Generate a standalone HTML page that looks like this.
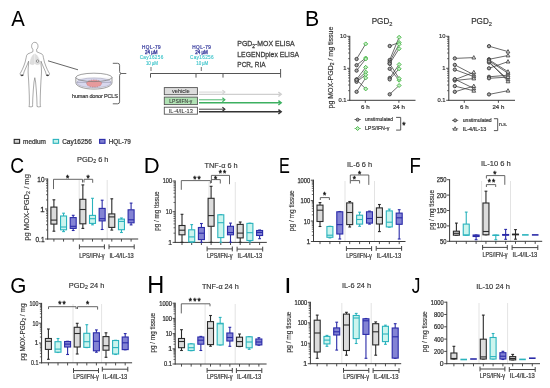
<!DOCTYPE html>
<html><head><meta charset="utf-8"><title>Figure</title>
<style>html,body{margin:0;padding:0;background:#fff;}svg{display:block;}</style>
</head><body>
<svg width="550" height="388" viewBox="0 0 550 388" font-family="'Liberation Sans', Arial, sans-serif">
<rect width="550" height="388" fill="#ffffff"/>
<line x1="79.2" y1="180" x2="79.2" y2="239" stroke="#dcdcdc" stroke-width="0.8" />
<line x1="107.2" y1="180" x2="107.2" y2="239" stroke="#dcdcdc" stroke-width="0.8" />
<line x1="47.7" y1="178.5" x2="47.7" y2="239.5" stroke="#3a3a3a" stroke-width="1" />
<line x1="47.2" y1="239" x2="138.2" y2="239" stroke="#3a3a3a" stroke-width="1" />
<line x1="45.1" y1="179" x2="47.7" y2="179" stroke="#3a3a3a" stroke-width="0.9" />
<text x="44.5" y="181.81" font-size="7.8" fill="#2e2e2e" stroke="#2e2e2e" stroke-width="0.27" text-anchor="end" textLength="7.2" lengthAdjust="spacingAndGlyphs" >10</text>
<line x1="45.1" y1="209" x2="47.7" y2="209" stroke="#3a3a3a" stroke-width="0.9" />
<text x="44.5" y="211.81" font-size="7.8" fill="#2e2e2e" stroke="#2e2e2e" stroke-width="0.27" text-anchor="end" >1</text>
<line x1="45.1" y1="239" x2="47.7" y2="239" stroke="#3a3a3a" stroke-width="0.9" />
<text x="44.5" y="241.81" font-size="7.8" fill="#2e2e2e" stroke="#2e2e2e" stroke-width="0.27" text-anchor="end" textLength="9" lengthAdjust="spacingAndGlyphs" >0.1</text>
<line x1="46" y1="199.97" x2="47.7" y2="199.97" stroke="#3a3a3a" stroke-width="0.75" />
<line x1="46" y1="194.69" x2="47.7" y2="194.69" stroke="#3a3a3a" stroke-width="0.75" />
<line x1="46" y1="190.94" x2="47.7" y2="190.94" stroke="#3a3a3a" stroke-width="0.75" />
<line x1="46" y1="188.03" x2="47.7" y2="188.03" stroke="#3a3a3a" stroke-width="0.75" />
<line x1="46" y1="185.66" x2="47.7" y2="185.66" stroke="#3a3a3a" stroke-width="0.75" />
<line x1="46" y1="183.65" x2="47.7" y2="183.65" stroke="#3a3a3a" stroke-width="0.75" />
<line x1="46" y1="181.91" x2="47.7" y2="181.91" stroke="#3a3a3a" stroke-width="0.75" />
<line x1="46" y1="180.37" x2="47.7" y2="180.37" stroke="#3a3a3a" stroke-width="0.75" />
<line x1="46" y1="229.97" x2="47.7" y2="229.97" stroke="#3a3a3a" stroke-width="0.75" />
<line x1="46" y1="224.69" x2="47.7" y2="224.69" stroke="#3a3a3a" stroke-width="0.75" />
<line x1="46" y1="220.94" x2="47.7" y2="220.94" stroke="#3a3a3a" stroke-width="0.75" />
<line x1="46" y1="218.03" x2="47.7" y2="218.03" stroke="#3a3a3a" stroke-width="0.75" />
<line x1="46" y1="215.66" x2="47.7" y2="215.66" stroke="#3a3a3a" stroke-width="0.75" />
<line x1="46" y1="213.65" x2="47.7" y2="213.65" stroke="#3a3a3a" stroke-width="0.75" />
<line x1="46" y1="211.91" x2="47.7" y2="211.91" stroke="#3a3a3a" stroke-width="0.75" />
<line x1="46" y1="210.37" x2="47.7" y2="210.37" stroke="#3a3a3a" stroke-width="0.75" />
<line x1="53.9" y1="239" x2="53.9" y2="241.6" stroke="#3a3a3a" stroke-width="0.9" />
<line x1="63.55" y1="239" x2="63.55" y2="241.6" stroke="#3a3a3a" stroke-width="0.9" />
<line x1="73.2" y1="239" x2="73.2" y2="241.6" stroke="#3a3a3a" stroke-width="0.9" />
<line x1="82.85" y1="239" x2="82.85" y2="241.6" stroke="#3a3a3a" stroke-width="0.9" />
<line x1="92.5" y1="239" x2="92.5" y2="241.6" stroke="#3a3a3a" stroke-width="0.9" />
<line x1="102.15" y1="239" x2="102.15" y2="241.6" stroke="#3a3a3a" stroke-width="0.9" />
<line x1="111.8" y1="239" x2="111.8" y2="241.6" stroke="#3a3a3a" stroke-width="0.9" />
<line x1="121.45" y1="239" x2="121.45" y2="241.6" stroke="#3a3a3a" stroke-width="0.9" />
<line x1="131.1" y1="239" x2="131.1" y2="241.6" stroke="#3a3a3a" stroke-width="0.9" />
<line x1="53.9" y1="199.8" x2="53.9" y2="207.1" stroke="#2a2a2a" stroke-width="1.1" />
<line x1="53.9" y1="224.1" x2="53.9" y2="231.2" stroke="#2a2a2a" stroke-width="1.1" />
<line x1="52.5" y1="199.8" x2="55.3" y2="199.8" stroke="#2a2a2a" stroke-width="1.1" />
<line x1="52.5" y1="231.2" x2="55.3" y2="231.2" stroke="#2a2a2a" stroke-width="1.1" />
<rect x="50.9" y="207.1" width="6" height="17" fill="#dcdcdc" stroke="#2a2a2a" stroke-width="1.1"/>
<line x1="50.9" y1="220.1" x2="56.9" y2="220.1" stroke="#2a2a2a" stroke-width="1.1" />
<line x1="63.55" y1="213.2" x2="63.55" y2="216" stroke="#2ab3bd" stroke-width="1.1" />
<line x1="63.55" y1="229.8" x2="63.55" y2="231.6" stroke="#2ab3bd" stroke-width="1.1" />
<line x1="62.15" y1="213.2" x2="64.95" y2="213.2" stroke="#2ab3bd" stroke-width="1.1" />
<line x1="62.15" y1="231.6" x2="64.95" y2="231.6" stroke="#2ab3bd" stroke-width="1.1" />
<rect x="60.55" y="216" width="6" height="13.8" fill="#ccf5ee" stroke="#2ab3bd" stroke-width="1.1"/>
<line x1="60.55" y1="227" x2="66.55" y2="227" stroke="#2ab3bd" stroke-width="1.1" />
<line x1="73.2" y1="215.3" x2="73.2" y2="217.6" stroke="#2a2aa8" stroke-width="1.1" />
<line x1="73.2" y1="228.4" x2="73.2" y2="230.5" stroke="#2a2aa8" stroke-width="1.1" />
<line x1="71.8" y1="215.3" x2="74.6" y2="215.3" stroke="#2a2aa8" stroke-width="1.1" />
<line x1="71.8" y1="230.5" x2="74.6" y2="230.5" stroke="#2a2aa8" stroke-width="1.1" />
<rect x="70.2" y="217.6" width="6" height="10.8" fill="#8383d4" stroke="#2a2aa8" stroke-width="1.1"/>
<line x1="70.2" y1="226.3" x2="76.2" y2="226.3" stroke="#2a2aa8" stroke-width="1.1" />
<line x1="82.85" y1="184.9" x2="82.85" y2="199.3" stroke="#2a2a2a" stroke-width="1.1" />
<line x1="82.85" y1="223.8" x2="82.85" y2="228.4" stroke="#2a2a2a" stroke-width="1.1" />
<line x1="81.45" y1="184.9" x2="84.25" y2="184.9" stroke="#2a2a2a" stroke-width="1.1" />
<line x1="81.45" y1="228.4" x2="84.25" y2="228.4" stroke="#2a2a2a" stroke-width="1.1" />
<rect x="79.85" y="199.3" width="6" height="24.5" fill="#dcdcdc" stroke="#2a2a2a" stroke-width="1.1"/>
<line x1="79.85" y1="209.5" x2="85.85" y2="209.5" stroke="#2a2a2a" stroke-width="1.1" />
<line x1="92.5" y1="198.3" x2="92.5" y2="215.4" stroke="#2ab3bd" stroke-width="1.1" />
<line x1="92.5" y1="223.4" x2="92.5" y2="224.8" stroke="#2ab3bd" stroke-width="1.1" />
<line x1="91.1" y1="198.3" x2="93.9" y2="198.3" stroke="#2ab3bd" stroke-width="1.1" />
<line x1="91.1" y1="224.8" x2="93.9" y2="224.8" stroke="#2ab3bd" stroke-width="1.1" />
<rect x="89.5" y="215.4" width="6" height="8" fill="#ccf5ee" stroke="#2ab3bd" stroke-width="1.1"/>
<line x1="89.5" y1="218.7" x2="95.5" y2="218.7" stroke="#2ab3bd" stroke-width="1.1" />
<line x1="102.15" y1="200.2" x2="102.15" y2="208.4" stroke="#2a2aa8" stroke-width="1.1" />
<line x1="102.15" y1="220.9" x2="102.15" y2="229.5" stroke="#2a2aa8" stroke-width="1.1" />
<line x1="100.75" y1="200.2" x2="103.55" y2="200.2" stroke="#2a2aa8" stroke-width="1.1" />
<line x1="100.75" y1="229.5" x2="103.55" y2="229.5" stroke="#2a2aa8" stroke-width="1.1" />
<rect x="99.15" y="208.4" width="6" height="12.5" fill="#8383d4" stroke="#2a2aa8" stroke-width="1.1"/>
<line x1="99.15" y1="218.7" x2="105.15" y2="218.7" stroke="#2a2aa8" stroke-width="1.1" />
<line x1="111.8" y1="198.8" x2="111.8" y2="213.9" stroke="#2a2a2a" stroke-width="1.1" />
<line x1="111.8" y1="227.4" x2="111.8" y2="230.1" stroke="#2a2a2a" stroke-width="1.1" />
<line x1="110.4" y1="198.8" x2="113.2" y2="198.8" stroke="#2a2a2a" stroke-width="1.1" />
<line x1="110.4" y1="230.1" x2="113.2" y2="230.1" stroke="#2a2a2a" stroke-width="1.1" />
<rect x="108.8" y="213.9" width="6" height="13.5" fill="#dcdcdc" stroke="#2a2a2a" stroke-width="1.1"/>
<line x1="108.8" y1="216.9" x2="114.8" y2="216.9" stroke="#2a2a2a" stroke-width="1.1" />
<line x1="121.45" y1="218" x2="121.45" y2="219.1" stroke="#2ab3bd" stroke-width="1.1" />
<line x1="121.45" y1="229.7" x2="121.45" y2="232.5" stroke="#2ab3bd" stroke-width="1.1" />
<line x1="120.05" y1="218" x2="122.85" y2="218" stroke="#2ab3bd" stroke-width="1.1" />
<line x1="120.05" y1="232.5" x2="122.85" y2="232.5" stroke="#2ab3bd" stroke-width="1.1" />
<rect x="118.45" y="219.1" width="6" height="10.6" fill="#ccf5ee" stroke="#2ab3bd" stroke-width="1.1"/>
<line x1="118.45" y1="221.4" x2="124.45" y2="221.4" stroke="#2ab3bd" stroke-width="1.1" />
<line x1="131.1" y1="203.1" x2="131.1" y2="209.8" stroke="#2a2aa8" stroke-width="1.1" />
<line x1="131.1" y1="222.8" x2="131.1" y2="224.9" stroke="#2a2aa8" stroke-width="1.1" />
<line x1="129.7" y1="203.1" x2="132.5" y2="203.1" stroke="#2a2aa8" stroke-width="1.1" />
<line x1="129.7" y1="224.9" x2="132.5" y2="224.9" stroke="#2a2aa8" stroke-width="1.1" />
<rect x="128.1" y="209.8" width="6" height="13" fill="#8383d4" stroke="#2a2aa8" stroke-width="1.1"/>
<line x1="128.1" y1="219.8" x2="134.1" y2="219.8" stroke="#2a2aa8" stroke-width="1.1" />
<line x1="79.4" y1="246.8" x2="104.4" y2="246.8" stroke="#444" stroke-width="1" />
<line x1="79.4" y1="244.4" x2="79.4" y2="249.2" stroke="#444" stroke-width="1" />
<line x1="104.4" y1="244.4" x2="104.4" y2="249.2" stroke="#444" stroke-width="1" />
<line x1="109" y1="246.8" x2="134.2" y2="246.8" stroke="#444" stroke-width="1" />
<line x1="109" y1="244.4" x2="109" y2="249.2" stroke="#444" stroke-width="1" />
<line x1="134.2" y1="244.4" x2="134.2" y2="249.2" stroke="#444" stroke-width="1" />
<text x="91.9" y="257.9" font-size="6.3" fill="#3a3a3a" stroke="#3a3a3a" stroke-width="0.22" text-anchor="middle" textLength="25.4" lengthAdjust="spacingAndGlyphs" >LPS/IFN-γ</text>
<text x="121.6" y="257.9" font-size="6.3" fill="#3a3a3a" stroke="#3a3a3a" stroke-width="0.22" text-anchor="middle" textLength="24.2" lengthAdjust="spacingAndGlyphs" >IL-4/IL-13</text>
<polyline points="53.5,189.1 53.5,179.3 82.5,179.3 82.5,182.5" fill="none" stroke="#555555" stroke-width="0.9"/>
<text x="67.6" y="180.5" font-size="8.2" fill="#1a1a1a" stroke="#1a1a1a" stroke-width="0.4" text-anchor="middle" textLength="2.9" lengthAdjust="spacing">*</text>
<polyline points="84,182.5 84,179.3 92.7,179.3 92.7,182.8" fill="none" stroke="#555555" stroke-width="0.9"/>
<text x="88.2" y="180.5" font-size="8.2" fill="#1a1a1a" stroke="#1a1a1a" stroke-width="0.4" text-anchor="middle" textLength="2.9" lengthAdjust="spacing">*</text>
<text transform="translate(10.34,172.77) scale(0.851,1)" font-size="22.57" fill="#000">C</text>
<text x="77" y="161.5" font-size="7.5" fill="#333" stroke="#333" stroke-width="0.16" textLength="31.5" lengthAdjust="spacingAndGlyphs">PGD<tspan font-size="70%" dy="1.6">2</tspan><tspan dy="-1.6"> 6 h</tspan></text>
<text transform="translate(28.5,207.4) rotate(-90)" x="0" y="0" font-size="7.6" fill="#333" stroke="#333" stroke-width="0.14" text-anchor="middle" textLength="66.6" lengthAdjust="spacingAndGlyphs">pg MOX-PGD<tspan font-size="70%" dy="1.2">2</tspan><tspan dy="-1.2"> / mg</tspan></text>
<line x1="209" y1="182" x2="209" y2="242.4" stroke="#dcdcdc" stroke-width="0.8" />
<line x1="235.3" y1="182" x2="235.3" y2="242.4" stroke="#dcdcdc" stroke-width="0.8" />
<line x1="175.2" y1="180.5" x2="175.2" y2="242.9" stroke="#3a3a3a" stroke-width="1" />
<line x1="174.7" y1="242.4" x2="266.8" y2="242.4" stroke="#3a3a3a" stroke-width="1" />
<line x1="172.6" y1="181" x2="175.2" y2="181" stroke="#3a3a3a" stroke-width="0.9" />
<text x="172" y="183.41" font-size="6.7" fill="#2e2e2e" stroke="#2e2e2e" stroke-width="0.23" text-anchor="end" textLength="9.28" lengthAdjust="spacingAndGlyphs" >100</text>
<line x1="172.6" y1="211.7" x2="175.2" y2="211.7" stroke="#3a3a3a" stroke-width="0.9" />
<text x="172" y="214.11" font-size="6.7" fill="#2e2e2e" stroke="#2e2e2e" stroke-width="0.23" text-anchor="end" textLength="6.18" lengthAdjust="spacingAndGlyphs" >10</text>
<line x1="172.6" y1="242.4" x2="175.2" y2="242.4" stroke="#3a3a3a" stroke-width="0.9" />
<text x="172" y="244.81" font-size="6.7" fill="#2e2e2e" stroke="#2e2e2e" stroke-width="0.23" text-anchor="end" >1</text>
<line x1="173.5" y1="202.46" x2="175.2" y2="202.46" stroke="#3a3a3a" stroke-width="0.75" />
<line x1="173.5" y1="197.05" x2="175.2" y2="197.05" stroke="#3a3a3a" stroke-width="0.75" />
<line x1="173.5" y1="193.22" x2="175.2" y2="193.22" stroke="#3a3a3a" stroke-width="0.75" />
<line x1="173.5" y1="190.24" x2="175.2" y2="190.24" stroke="#3a3a3a" stroke-width="0.75" />
<line x1="173.5" y1="187.81" x2="175.2" y2="187.81" stroke="#3a3a3a" stroke-width="0.75" />
<line x1="173.5" y1="185.76" x2="175.2" y2="185.76" stroke="#3a3a3a" stroke-width="0.75" />
<line x1="173.5" y1="183.98" x2="175.2" y2="183.98" stroke="#3a3a3a" stroke-width="0.75" />
<line x1="173.5" y1="182.4" x2="175.2" y2="182.4" stroke="#3a3a3a" stroke-width="0.75" />
<line x1="173.5" y1="233.16" x2="175.2" y2="233.16" stroke="#3a3a3a" stroke-width="0.75" />
<line x1="173.5" y1="227.75" x2="175.2" y2="227.75" stroke="#3a3a3a" stroke-width="0.75" />
<line x1="173.5" y1="223.92" x2="175.2" y2="223.92" stroke="#3a3a3a" stroke-width="0.75" />
<line x1="173.5" y1="220.94" x2="175.2" y2="220.94" stroke="#3a3a3a" stroke-width="0.75" />
<line x1="173.5" y1="218.51" x2="175.2" y2="218.51" stroke="#3a3a3a" stroke-width="0.75" />
<line x1="173.5" y1="216.46" x2="175.2" y2="216.46" stroke="#3a3a3a" stroke-width="0.75" />
<line x1="173.5" y1="214.68" x2="175.2" y2="214.68" stroke="#3a3a3a" stroke-width="0.75" />
<line x1="173.5" y1="213.1" x2="175.2" y2="213.1" stroke="#3a3a3a" stroke-width="0.75" />
<line x1="182" y1="242.4" x2="182" y2="245" stroke="#3a3a3a" stroke-width="0.9" />
<line x1="191.7" y1="242.4" x2="191.7" y2="245" stroke="#3a3a3a" stroke-width="0.9" />
<line x1="201.4" y1="242.4" x2="201.4" y2="245" stroke="#3a3a3a" stroke-width="0.9" />
<line x1="211.1" y1="242.4" x2="211.1" y2="245" stroke="#3a3a3a" stroke-width="0.9" />
<line x1="220.8" y1="242.4" x2="220.8" y2="245" stroke="#3a3a3a" stroke-width="0.9" />
<line x1="230.5" y1="242.4" x2="230.5" y2="245" stroke="#3a3a3a" stroke-width="0.9" />
<line x1="240.2" y1="242.4" x2="240.2" y2="245" stroke="#3a3a3a" stroke-width="0.9" />
<line x1="249.9" y1="242.4" x2="249.9" y2="245" stroke="#3a3a3a" stroke-width="0.9" />
<line x1="259.6" y1="242.4" x2="259.6" y2="245" stroke="#3a3a3a" stroke-width="0.9" />
<line x1="182" y1="214.3" x2="182" y2="225.5" stroke="#2a2a2a" stroke-width="1.1" />
<line x1="182" y1="234.8" x2="182" y2="242.3" stroke="#2a2a2a" stroke-width="1.1" />
<line x1="180.6" y1="214.3" x2="183.4" y2="214.3" stroke="#2a2a2a" stroke-width="1.1" />
<line x1="180.6" y1="242.3" x2="183.4" y2="242.3" stroke="#2a2a2a" stroke-width="1.1" />
<rect x="179" y="225.5" width="6" height="9.3" fill="#dcdcdc" stroke="#2a2a2a" stroke-width="1.1"/>
<line x1="179" y1="230.2" x2="185" y2="230.2" stroke="#2a2a2a" stroke-width="1.1" />
<line x1="191.7" y1="224.6" x2="191.7" y2="229.8" stroke="#2ab3bd" stroke-width="1.1" />
<line x1="191.7" y1="241.8" x2="191.7" y2="242.3" stroke="#2ab3bd" stroke-width="1.1" />
<line x1="190.3" y1="224.6" x2="193.1" y2="224.6" stroke="#2ab3bd" stroke-width="1.1" />
<line x1="190.3" y1="242.3" x2="193.1" y2="242.3" stroke="#2ab3bd" stroke-width="1.1" />
<rect x="188.7" y="229.8" width="6" height="12" fill="#ccf5ee" stroke="#2ab3bd" stroke-width="1.1"/>
<line x1="188.7" y1="236.9" x2="194.7" y2="236.9" stroke="#2ab3bd" stroke-width="1.1" />
<line x1="201.4" y1="223.5" x2="201.4" y2="227.5" stroke="#2a2aa8" stroke-width="1.1" />
<line x1="201.4" y1="239.6" x2="201.4" y2="242.3" stroke="#2a2aa8" stroke-width="1.1" />
<line x1="200" y1="223.5" x2="202.8" y2="223.5" stroke="#2a2aa8" stroke-width="1.1" />
<line x1="200" y1="242.3" x2="202.8" y2="242.3" stroke="#2a2aa8" stroke-width="1.1" />
<rect x="198.4" y="227.5" width="6" height="12.1" fill="#8383d4" stroke="#2a2aa8" stroke-width="1.1"/>
<line x1="198.4" y1="233.2" x2="204.4" y2="233.2" stroke="#2a2aa8" stroke-width="1.1" />
<line x1="211.1" y1="186.3" x2="211.1" y2="198.3" stroke="#2a2a2a" stroke-width="1.1" />
<line x1="211.1" y1="226.3" x2="211.1" y2="242.3" stroke="#2a2a2a" stroke-width="1.1" />
<line x1="209.7" y1="186.3" x2="212.5" y2="186.3" stroke="#2a2a2a" stroke-width="1.1" />
<line x1="209.7" y1="242.3" x2="212.5" y2="242.3" stroke="#2a2a2a" stroke-width="1.1" />
<rect x="208.1" y="198.3" width="6" height="28" fill="#dcdcdc" stroke="#2a2a2a" stroke-width="1.1"/>
<line x1="208.1" y1="215.6" x2="214.1" y2="215.6" stroke="#2a2a2a" stroke-width="1.1" />
<line x1="220.8" y1="214.6" x2="220.8" y2="214.8" stroke="#2ab3bd" stroke-width="1.1" />
<line x1="220.8" y1="237.6" x2="220.8" y2="242.3" stroke="#2ab3bd" stroke-width="1.1" />
<line x1="219.4" y1="214.6" x2="222.2" y2="214.6" stroke="#2ab3bd" stroke-width="1.1" />
<line x1="219.4" y1="242.3" x2="222.2" y2="242.3" stroke="#2ab3bd" stroke-width="1.1" />
<rect x="217.8" y="214.8" width="6" height="22.8" fill="#ccf5ee" stroke="#2ab3bd" stroke-width="1.1"/>
<line x1="217.8" y1="222.7" x2="223.8" y2="222.7" stroke="#2ab3bd" stroke-width="1.1" />
<line x1="230.5" y1="223.1" x2="230.5" y2="226.3" stroke="#2a2aa8" stroke-width="1.1" />
<line x1="230.5" y1="234.8" x2="230.5" y2="242.3" stroke="#2a2aa8" stroke-width="1.1" />
<line x1="229.1" y1="223.1" x2="231.9" y2="223.1" stroke="#2a2aa8" stroke-width="1.1" />
<line x1="229.1" y1="242.3" x2="231.9" y2="242.3" stroke="#2a2aa8" stroke-width="1.1" />
<rect x="227.5" y="226.3" width="6" height="8.5" fill="#8383d4" stroke="#2a2aa8" stroke-width="1.1"/>
<line x1="227.5" y1="232.6" x2="233.5" y2="232.6" stroke="#2a2aa8" stroke-width="1.1" />
<line x1="240.2" y1="222" x2="240.2" y2="224.4" stroke="#2a2a2a" stroke-width="1.1" />
<line x1="240.2" y1="237.9" x2="240.2" y2="242.3" stroke="#2a2a2a" stroke-width="1.1" />
<line x1="238.8" y1="222" x2="241.6" y2="222" stroke="#2a2a2a" stroke-width="1.1" />
<line x1="238.8" y1="242.3" x2="241.6" y2="242.3" stroke="#2a2a2a" stroke-width="1.1" />
<rect x="237.2" y="224.4" width="6" height="13.5" fill="#dcdcdc" stroke="#2a2a2a" stroke-width="1.1"/>
<line x1="237.2" y1="233.1" x2="243.2" y2="233.1" stroke="#2a2a2a" stroke-width="1.1" />
<line x1="249.9" y1="223.2" x2="249.9" y2="223.4" stroke="#2ab3bd" stroke-width="1.1" />
<line x1="249.9" y1="240.5" x2="249.9" y2="242" stroke="#2ab3bd" stroke-width="1.1" />
<line x1="248.5" y1="223.2" x2="251.3" y2="223.2" stroke="#2ab3bd" stroke-width="1.1" />
<line x1="248.5" y1="242" x2="251.3" y2="242" stroke="#2ab3bd" stroke-width="1.1" />
<rect x="246.9" y="223.4" width="6" height="17.1" fill="#ccf5ee" stroke="#2ab3bd" stroke-width="1.1"/>
<line x1="246.9" y1="232.7" x2="252.9" y2="232.7" stroke="#2ab3bd" stroke-width="1.1" />
<line x1="259.6" y1="230" x2="259.6" y2="230.5" stroke="#2a2aa8" stroke-width="1.1" />
<line x1="259.6" y1="235.5" x2="259.6" y2="238.7" stroke="#2a2aa8" stroke-width="1.1" />
<line x1="258.2" y1="230" x2="261" y2="230" stroke="#2a2aa8" stroke-width="1.1" />
<line x1="258.2" y1="238.7" x2="261" y2="238.7" stroke="#2a2aa8" stroke-width="1.1" />
<rect x="256.6" y="230.5" width="6" height="5" fill="#8383d4" stroke="#2a2aa8" stroke-width="1.1"/>
<line x1="256.6" y1="232.4" x2="262.6" y2="232.4" stroke="#2a2aa8" stroke-width="1.1" />
<line x1="207.1" y1="248.9" x2="232.3" y2="248.9" stroke="#444" stroke-width="1" />
<line x1="207.1" y1="246.5" x2="207.1" y2="251.3" stroke="#444" stroke-width="1" />
<line x1="232.3" y1="246.5" x2="232.3" y2="251.3" stroke="#444" stroke-width="1" />
<line x1="237.1" y1="249.1" x2="262.7" y2="249.1" stroke="#444" stroke-width="1" />
<line x1="237.1" y1="246.7" x2="237.1" y2="251.5" stroke="#444" stroke-width="1" />
<line x1="262.7" y1="246.7" x2="262.7" y2="251.5" stroke="#444" stroke-width="1" />
<text x="219.7" y="258.4" font-size="6.3" fill="#3a3a3a" stroke="#3a3a3a" stroke-width="0.22" text-anchor="middle" textLength="25.6" lengthAdjust="spacingAndGlyphs" >LPS/IFN-γ</text>
<text x="249.9" y="258.4" font-size="6.3" fill="#3a3a3a" stroke="#3a3a3a" stroke-width="0.22" text-anchor="middle" textLength="24.6" lengthAdjust="spacingAndGlyphs" >IL-4/IL-13</text>
<polyline points="181.3,189.8 181.3,180.6 210.4,180.6 210.4,183.5" fill="none" stroke="#555555" stroke-width="0.9"/>
<text x="197" y="181.8" font-size="8.2" fill="#1a1a1a" stroke="#1a1a1a" stroke-width="0.4" text-anchor="middle" textLength="7.4" lengthAdjust="spacing">**</text>
<polyline points="211.4,183 211.4,179.6 220.3,179.6 220.3,183.5" fill="none" stroke="#555555" stroke-width="0.9"/>
<text x="215.6" y="181.8" font-size="8.2" fill="#1a1a1a" stroke="#1a1a1a" stroke-width="0.4" text-anchor="middle" textLength="2.9" lengthAdjust="spacing">*</text>
<polyline points="211.4,179.6 211.4,175.4 229.5,175.4 229.5,184.2" fill="none" stroke="#555555" stroke-width="0.9"/>
<text x="222.4" y="176.1" font-size="8.2" fill="#1a1a1a" stroke="#1a1a1a" stroke-width="0.4" text-anchor="middle" textLength="7.4" lengthAdjust="spacing">**</text>
<text transform="translate(143.64,173.1) scale(0.984,1)" font-size="22.39" fill="#000">D</text>
<text x="204.5" y="167.7" font-size="8" fill="#333" stroke="#333" stroke-width="0.16" textLength="33.2" lengthAdjust="spacingAndGlyphs">TNF-α 6 h</text>
<text transform="translate(158.8,211.1) rotate(-90)" x="0" y="0" font-size="6.33" fill="#333" stroke="#333" stroke-width="0.14" text-anchor="middle" textLength="39.4" lengthAdjust="spacingAndGlyphs">pg / mg tissue</text>
<line x1="345" y1="181" x2="345" y2="241.5" stroke="#dcdcdc" stroke-width="0.8" />
<line x1="374.5" y1="181" x2="374.5" y2="241.5" stroke="#dcdcdc" stroke-width="0.8" />
<line x1="313.5" y1="179.7" x2="313.5" y2="242" stroke="#3a3a3a" stroke-width="1" />
<line x1="313" y1="241.5" x2="405.5" y2="241.5" stroke="#3a3a3a" stroke-width="1" />
<line x1="310.9" y1="180.2" x2="313.5" y2="180.2" stroke="#3a3a3a" stroke-width="0.9" />
<text x="310.3" y="182.72" font-size="7" fill="#2e2e2e" stroke="#2e2e2e" stroke-width="0.25" text-anchor="end" textLength="12.92" lengthAdjust="spacingAndGlyphs" >1000</text>
<line x1="310.9" y1="200.6" x2="313.5" y2="200.6" stroke="#3a3a3a" stroke-width="0.9" />
<text x="310.3" y="203.12" font-size="7" fill="#2e2e2e" stroke="#2e2e2e" stroke-width="0.25" text-anchor="end" textLength="9.69" lengthAdjust="spacingAndGlyphs" >100</text>
<line x1="310.9" y1="221" x2="313.5" y2="221" stroke="#3a3a3a" stroke-width="0.9" />
<text x="310.3" y="223.52" font-size="7" fill="#2e2e2e" stroke="#2e2e2e" stroke-width="0.25" text-anchor="end" textLength="6.46" lengthAdjust="spacingAndGlyphs" >10</text>
<line x1="310.9" y1="241.5" x2="313.5" y2="241.5" stroke="#3a3a3a" stroke-width="0.9" />
<text x="310.3" y="244.02" font-size="7" fill="#2e2e2e" stroke="#2e2e2e" stroke-width="0.25" text-anchor="end" >1</text>
<line x1="311.8" y1="194.46" x2="313.5" y2="194.46" stroke="#3a3a3a" stroke-width="0.75" />
<line x1="311.8" y1="190.87" x2="313.5" y2="190.87" stroke="#3a3a3a" stroke-width="0.75" />
<line x1="311.8" y1="188.32" x2="313.5" y2="188.32" stroke="#3a3a3a" stroke-width="0.75" />
<line x1="311.8" y1="186.34" x2="313.5" y2="186.34" stroke="#3a3a3a" stroke-width="0.75" />
<line x1="311.8" y1="184.73" x2="313.5" y2="184.73" stroke="#3a3a3a" stroke-width="0.75" />
<line x1="311.8" y1="183.36" x2="313.5" y2="183.36" stroke="#3a3a3a" stroke-width="0.75" />
<line x1="311.8" y1="182.18" x2="313.5" y2="182.18" stroke="#3a3a3a" stroke-width="0.75" />
<line x1="311.8" y1="181.13" x2="313.5" y2="181.13" stroke="#3a3a3a" stroke-width="0.75" />
<line x1="311.8" y1="214.86" x2="313.5" y2="214.86" stroke="#3a3a3a" stroke-width="0.75" />
<line x1="311.8" y1="211.27" x2="313.5" y2="211.27" stroke="#3a3a3a" stroke-width="0.75" />
<line x1="311.8" y1="208.72" x2="313.5" y2="208.72" stroke="#3a3a3a" stroke-width="0.75" />
<line x1="311.8" y1="206.74" x2="313.5" y2="206.74" stroke="#3a3a3a" stroke-width="0.75" />
<line x1="311.8" y1="205.13" x2="313.5" y2="205.13" stroke="#3a3a3a" stroke-width="0.75" />
<line x1="311.8" y1="203.76" x2="313.5" y2="203.76" stroke="#3a3a3a" stroke-width="0.75" />
<line x1="311.8" y1="202.58" x2="313.5" y2="202.58" stroke="#3a3a3a" stroke-width="0.75" />
<line x1="311.8" y1="201.53" x2="313.5" y2="201.53" stroke="#3a3a3a" stroke-width="0.75" />
<line x1="311.8" y1="235.33" x2="313.5" y2="235.33" stroke="#3a3a3a" stroke-width="0.75" />
<line x1="311.8" y1="231.72" x2="313.5" y2="231.72" stroke="#3a3a3a" stroke-width="0.75" />
<line x1="311.8" y1="229.16" x2="313.5" y2="229.16" stroke="#3a3a3a" stroke-width="0.75" />
<line x1="311.8" y1="227.17" x2="313.5" y2="227.17" stroke="#3a3a3a" stroke-width="0.75" />
<line x1="311.8" y1="225.55" x2="313.5" y2="225.55" stroke="#3a3a3a" stroke-width="0.75" />
<line x1="311.8" y1="224.18" x2="313.5" y2="224.18" stroke="#3a3a3a" stroke-width="0.75" />
<line x1="311.8" y1="222.99" x2="313.5" y2="222.99" stroke="#3a3a3a" stroke-width="0.75" />
<line x1="311.8" y1="221.94" x2="313.5" y2="221.94" stroke="#3a3a3a" stroke-width="0.75" />
<line x1="320" y1="241.5" x2="320" y2="244.1" stroke="#3a3a3a" stroke-width="0.9" />
<line x1="329.9" y1="241.5" x2="329.9" y2="244.1" stroke="#3a3a3a" stroke-width="0.9" />
<line x1="339.8" y1="241.5" x2="339.8" y2="244.1" stroke="#3a3a3a" stroke-width="0.9" />
<line x1="349.7" y1="241.5" x2="349.7" y2="244.1" stroke="#3a3a3a" stroke-width="0.9" />
<line x1="359.6" y1="241.5" x2="359.6" y2="244.1" stroke="#3a3a3a" stroke-width="0.9" />
<line x1="369.5" y1="241.5" x2="369.5" y2="244.1" stroke="#3a3a3a" stroke-width="0.9" />
<line x1="379.4" y1="241.5" x2="379.4" y2="244.1" stroke="#3a3a3a" stroke-width="0.9" />
<line x1="389.3" y1="241.5" x2="389.3" y2="244.1" stroke="#3a3a3a" stroke-width="0.9" />
<line x1="399.2" y1="241.5" x2="399.2" y2="244.1" stroke="#3a3a3a" stroke-width="0.9" />
<line x1="320" y1="202.6" x2="320" y2="205.1" stroke="#2a2a2a" stroke-width="1.1" />
<line x1="320" y1="221.5" x2="320" y2="226.5" stroke="#2a2a2a" stroke-width="1.1" />
<line x1="318.6" y1="202.6" x2="321.4" y2="202.6" stroke="#2a2a2a" stroke-width="1.1" />
<line x1="318.6" y1="226.5" x2="321.4" y2="226.5" stroke="#2a2a2a" stroke-width="1.1" />
<rect x="317" y="205.1" width="6" height="16.4" fill="#dcdcdc" stroke="#2a2a2a" stroke-width="1.1"/>
<line x1="317" y1="210.2" x2="323" y2="210.2" stroke="#2a2a2a" stroke-width="1.1" />
<line x1="329.9" y1="226.3" x2="329.9" y2="226.5" stroke="#2ab3bd" stroke-width="1.1" />
<line x1="329.9" y1="237.3" x2="329.9" y2="237.9" stroke="#2ab3bd" stroke-width="1.1" />
<line x1="328.5" y1="226.3" x2="331.3" y2="226.3" stroke="#2ab3bd" stroke-width="1.1" />
<line x1="328.5" y1="237.9" x2="331.3" y2="237.9" stroke="#2ab3bd" stroke-width="1.1" />
<rect x="326.9" y="226.5" width="6" height="10.8" fill="#ccf5ee" stroke="#2ab3bd" stroke-width="1.1"/>
<line x1="326.9" y1="235.2" x2="332.9" y2="235.2" stroke="#2ab3bd" stroke-width="1.1" />
<line x1="339.8" y1="211.5" x2="339.8" y2="211.8" stroke="#2a2aa8" stroke-width="1.1" />
<line x1="339.8" y1="234" x2="339.8" y2="239" stroke="#2a2aa8" stroke-width="1.1" />
<line x1="338.4" y1="211.5" x2="341.2" y2="211.5" stroke="#2a2aa8" stroke-width="1.1" />
<line x1="338.4" y1="239" x2="341.2" y2="239" stroke="#2a2aa8" stroke-width="1.1" />
<rect x="336.8" y="211.8" width="6" height="22.2" fill="#8383d4" stroke="#2a2aa8" stroke-width="1.1"/>
<line x1="336.8" y1="224.6" x2="342.8" y2="224.6" stroke="#2a2aa8" stroke-width="1.1" />
<line x1="349.7" y1="201.5" x2="349.7" y2="202.9" stroke="#2a2a2a" stroke-width="1.1" />
<line x1="349.7" y1="224.6" x2="349.7" y2="227" stroke="#2a2a2a" stroke-width="1.1" />
<line x1="348.3" y1="201.5" x2="351.1" y2="201.5" stroke="#2a2a2a" stroke-width="1.1" />
<line x1="348.3" y1="227" x2="351.1" y2="227" stroke="#2a2a2a" stroke-width="1.1" />
<rect x="346.7" y="202.9" width="6" height="21.7" fill="#dcdcdc" stroke="#2a2a2a" stroke-width="1.1"/>
<line x1="346.7" y1="212.5" x2="352.7" y2="212.5" stroke="#2a2a2a" stroke-width="1.1" />
<line x1="359.6" y1="212.2" x2="359.6" y2="215.2" stroke="#2ab3bd" stroke-width="1.1" />
<line x1="359.6" y1="224.1" x2="359.6" y2="226.3" stroke="#2ab3bd" stroke-width="1.1" />
<line x1="358.2" y1="212.2" x2="361" y2="212.2" stroke="#2ab3bd" stroke-width="1.1" />
<line x1="358.2" y1="226.3" x2="361" y2="226.3" stroke="#2ab3bd" stroke-width="1.1" />
<rect x="356.6" y="215.2" width="6" height="8.9" fill="#ccf5ee" stroke="#2ab3bd" stroke-width="1.1"/>
<line x1="356.6" y1="219.5" x2="362.6" y2="219.5" stroke="#2ab3bd" stroke-width="1.1" />
<line x1="369.5" y1="211.1" x2="369.5" y2="211.8" stroke="#2a2aa8" stroke-width="1.1" />
<line x1="369.5" y1="223.1" x2="369.5" y2="224.1" stroke="#2a2aa8" stroke-width="1.1" />
<line x1="368.1" y1="211.1" x2="370.9" y2="211.1" stroke="#2a2aa8" stroke-width="1.1" />
<line x1="368.1" y1="224.1" x2="370.9" y2="224.1" stroke="#2a2aa8" stroke-width="1.1" />
<rect x="366.5" y="211.8" width="6" height="11.3" fill="#8383d4" stroke="#2a2aa8" stroke-width="1.1"/>
<line x1="366.5" y1="218.5" x2="372.5" y2="218.5" stroke="#2a2aa8" stroke-width="1.1" />
<line x1="379.4" y1="204.5" x2="379.4" y2="207.9" stroke="#2a2a2a" stroke-width="1.1" />
<line x1="379.4" y1="224" x2="379.4" y2="231.6" stroke="#2a2a2a" stroke-width="1.1" />
<line x1="378" y1="204.5" x2="380.8" y2="204.5" stroke="#2a2a2a" stroke-width="1.1" />
<line x1="378" y1="231.6" x2="380.8" y2="231.6" stroke="#2a2a2a" stroke-width="1.1" />
<rect x="376.4" y="207.9" width="6" height="16.1" fill="#dcdcdc" stroke="#2a2a2a" stroke-width="1.1"/>
<line x1="376.4" y1="217.4" x2="382.4" y2="217.4" stroke="#2a2a2a" stroke-width="1.1" />
<line x1="389.3" y1="209.1" x2="389.3" y2="210.9" stroke="#2ab3bd" stroke-width="1.1" />
<line x1="389.3" y1="226.9" x2="389.3" y2="227.2" stroke="#2ab3bd" stroke-width="1.1" />
<line x1="387.9" y1="209.1" x2="390.7" y2="209.1" stroke="#2ab3bd" stroke-width="1.1" />
<line x1="387.9" y1="227.2" x2="390.7" y2="227.2" stroke="#2ab3bd" stroke-width="1.1" />
<rect x="386.3" y="210.9" width="6" height="16" fill="#ccf5ee" stroke="#2ab3bd" stroke-width="1.1"/>
<line x1="386.3" y1="222.2" x2="392.3" y2="222.2" stroke="#2ab3bd" stroke-width="1.1" />
<line x1="399.2" y1="209.7" x2="399.2" y2="213.1" stroke="#2a2aa8" stroke-width="1.1" />
<line x1="399.2" y1="224.3" x2="399.2" y2="239" stroke="#2a2aa8" stroke-width="1.1" />
<line x1="397.8" y1="209.7" x2="400.6" y2="209.7" stroke="#2a2aa8" stroke-width="1.1" />
<line x1="397.8" y1="239" x2="400.6" y2="239" stroke="#2a2aa8" stroke-width="1.1" />
<rect x="396.2" y="213.1" width="6" height="11.2" fill="#8383d4" stroke="#2a2aa8" stroke-width="1.1"/>
<line x1="396.2" y1="217.8" x2="402.2" y2="217.8" stroke="#2a2aa8" stroke-width="1.1" />
<line x1="346.4" y1="248.6" x2="371.6" y2="248.6" stroke="#444" stroke-width="1" />
<line x1="346.4" y1="246.2" x2="346.4" y2="251" stroke="#444" stroke-width="1" />
<line x1="371.6" y1="246.2" x2="371.6" y2="251" stroke="#444" stroke-width="1" />
<line x1="376.2" y1="248.4" x2="401.6" y2="248.4" stroke="#444" stroke-width="1" />
<line x1="376.2" y1="246" x2="376.2" y2="250.8" stroke="#444" stroke-width="1" />
<line x1="401.6" y1="246" x2="401.6" y2="250.8" stroke="#444" stroke-width="1" />
<text x="359" y="258.2" font-size="6.3" fill="#3a3a3a" stroke="#3a3a3a" stroke-width="0.22" text-anchor="middle" textLength="25.6" lengthAdjust="spacingAndGlyphs" >LPS/IFN-γ</text>
<text x="388.9" y="258.2" font-size="6.3" fill="#3a3a3a" stroke="#3a3a3a" stroke-width="0.22" text-anchor="middle" textLength="24.4" lengthAdjust="spacingAndGlyphs" >IL-4/IL-13</text>
<polyline points="320.3,200 320.3,197.6 329.4,197.6 329.4,200" fill="none" stroke="#555555" stroke-width="0.9"/>
<text x="324.6" y="197.8" font-size="8.2" fill="#1a1a1a" stroke="#1a1a1a" stroke-width="0.4" text-anchor="middle" textLength="2.9" lengthAdjust="spacing">*</text>
<polyline points="350.3,183.5 350.3,180.6 359.6,180.6 359.6,183.5" fill="none" stroke="#555555" stroke-width="0.9"/>
<text x="354.3" y="182.2" font-size="8.2" fill="#1a1a1a" stroke="#1a1a1a" stroke-width="0.4" text-anchor="middle" textLength="2.9" lengthAdjust="spacing">*</text>
<polyline points="350.3,180.6 350.3,175 368.8,175 368.8,184.9" fill="none" stroke="#555555" stroke-width="0.9"/>
<text x="359.6" y="176.8" font-size="8.2" fill="#1a1a1a" stroke="#1a1a1a" stroke-width="0.4" text-anchor="middle" textLength="2.9" lengthAdjust="spacing">*</text>
<text transform="translate(279.1,172.7) scale(0.737,1)" font-size="22.1" fill="#000">E</text>
<text x="347" y="166.5" font-size="7.8" fill="#333" stroke="#333" stroke-width="0.16" textLength="25.1" lengthAdjust="spacingAndGlyphs">IL-6 6 h</text>
<text transform="translate(293.7,210.8) rotate(-90)" x="0" y="0" font-size="6.55" fill="#333" stroke="#333" stroke-width="0.14" text-anchor="middle" textLength="40.8" lengthAdjust="spacingAndGlyphs">pg / mg tissue</text>
<line x1="481.6" y1="181" x2="481.6" y2="241.3" stroke="#dcdcdc" stroke-width="0.8" />
<line x1="510.5" y1="181" x2="510.5" y2="241.3" stroke="#dcdcdc" stroke-width="0.8" />
<line x1="449.6" y1="179.2" x2="449.6" y2="241.8" stroke="#3a3a3a" stroke-width="1" />
<line x1="449.1" y1="241.3" x2="542.2" y2="241.3" stroke="#3a3a3a" stroke-width="1" />
<line x1="447" y1="179.7" x2="449.6" y2="179.7" stroke="#3a3a3a" stroke-width="0.9" />
<text x="446.4" y="182.22" font-size="7" fill="#2e2e2e" stroke="#2e2e2e" stroke-width="0.25" text-anchor="end" textLength="9.69" lengthAdjust="spacingAndGlyphs" >250</text>
<line x1="447" y1="195.1" x2="449.6" y2="195.1" stroke="#3a3a3a" stroke-width="0.9" />
<text x="446.4" y="197.62" font-size="7" fill="#2e2e2e" stroke="#2e2e2e" stroke-width="0.25" text-anchor="end" textLength="9.69" lengthAdjust="spacingAndGlyphs" >200</text>
<line x1="447" y1="210.5" x2="449.6" y2="210.5" stroke="#3a3a3a" stroke-width="0.9" />
<text x="446.4" y="213.02" font-size="7" fill="#2e2e2e" stroke="#2e2e2e" stroke-width="0.25" text-anchor="end" textLength="9.69" lengthAdjust="spacingAndGlyphs" >150</text>
<line x1="447" y1="225.9" x2="449.6" y2="225.9" stroke="#3a3a3a" stroke-width="0.9" />
<text x="446.4" y="228.42" font-size="7" fill="#2e2e2e" stroke="#2e2e2e" stroke-width="0.25" text-anchor="end" textLength="9.69" lengthAdjust="spacingAndGlyphs" >100</text>
<line x1="447" y1="241.3" x2="449.6" y2="241.3" stroke="#3a3a3a" stroke-width="0.9" />
<text x="446.4" y="243.82" font-size="7" fill="#2e2e2e" stroke="#2e2e2e" stroke-width="0.25" text-anchor="end" textLength="6.46" lengthAdjust="spacingAndGlyphs" >50</text>
<line x1="456.4" y1="241.3" x2="456.4" y2="243.9" stroke="#3a3a3a" stroke-width="0.9" />
<line x1="466.25" y1="241.3" x2="466.25" y2="243.9" stroke="#3a3a3a" stroke-width="0.9" />
<line x1="476.1" y1="241.3" x2="476.1" y2="243.9" stroke="#3a3a3a" stroke-width="0.9" />
<line x1="485.95" y1="241.3" x2="485.95" y2="243.9" stroke="#3a3a3a" stroke-width="0.9" />
<line x1="495.8" y1="241.3" x2="495.8" y2="243.9" stroke="#3a3a3a" stroke-width="0.9" />
<line x1="505.65" y1="241.3" x2="505.65" y2="243.9" stroke="#3a3a3a" stroke-width="0.9" />
<line x1="515.5" y1="241.3" x2="515.5" y2="243.9" stroke="#3a3a3a" stroke-width="0.9" />
<line x1="525.35" y1="241.3" x2="525.35" y2="243.9" stroke="#3a3a3a" stroke-width="0.9" />
<line x1="535.2" y1="241.3" x2="535.2" y2="243.9" stroke="#3a3a3a" stroke-width="0.9" />
<line x1="456.4" y1="223.1" x2="456.4" y2="231.2" stroke="#2a2a2a" stroke-width="1.1" />
<line x1="456.4" y1="235.2" x2="456.4" y2="235.2" stroke="#2a2a2a" stroke-width="1.1" />
<line x1="455" y1="223.1" x2="457.8" y2="223.1" stroke="#2a2a2a" stroke-width="1.1" />
<line x1="455" y1="235.2" x2="457.8" y2="235.2" stroke="#2a2a2a" stroke-width="1.1" />
<rect x="453.4" y="231.2" width="6" height="4" fill="#dcdcdc" stroke="#2a2a2a" stroke-width="1.1"/>
<line x1="453.4" y1="233.3" x2="459.4" y2="233.3" stroke="#2a2a2a" stroke-width="1.1" />
<line x1="466.25" y1="212.1" x2="466.25" y2="224.1" stroke="#2ab3bd" stroke-width="1.1" />
<line x1="466.25" y1="235.2" x2="466.25" y2="235.2" stroke="#2ab3bd" stroke-width="1.1" />
<line x1="464.85" y1="212.1" x2="467.65" y2="212.1" stroke="#2ab3bd" stroke-width="1.1" />
<line x1="464.85" y1="235.2" x2="467.65" y2="235.2" stroke="#2ab3bd" stroke-width="1.1" />
<rect x="463.25" y="224.1" width="6" height="11.1" fill="#ccf5ee" stroke="#2ab3bd" stroke-width="1.1"/>
<line x1="463.25" y1="235" x2="469.25" y2="235" stroke="#2ab3bd" stroke-width="1.1" />
<line x1="476.1" y1="235" x2="476.1" y2="235" stroke="#2a2aa8" stroke-width="1.1" />
<line x1="476.1" y1="236.5" x2="476.1" y2="239.7" stroke="#2a2aa8" stroke-width="1.1" />
<line x1="474.7" y1="235" x2="477.5" y2="235" stroke="#2a2aa8" stroke-width="1.1" />
<line x1="474.7" y1="239.7" x2="477.5" y2="239.7" stroke="#2a2aa8" stroke-width="1.1" />
<rect x="473.1" y="235" width="6" height="1.5" fill="#8383d4" stroke="#2a2aa8" stroke-width="1.1"/>
<line x1="473.1" y1="235.8" x2="479.1" y2="235.8" stroke="#2a2aa8" stroke-width="1.1" />
<line x1="485.95" y1="191.2" x2="485.95" y2="203" stroke="#2a2a2a" stroke-width="1.1" />
<line x1="485.95" y1="234.8" x2="485.95" y2="234.8" stroke="#2a2a2a" stroke-width="1.1" />
<line x1="484.55" y1="191.2" x2="487.35" y2="191.2" stroke="#2a2a2a" stroke-width="1.1" />
<line x1="484.55" y1="234.8" x2="487.35" y2="234.8" stroke="#2a2a2a" stroke-width="1.1" />
<rect x="482.95" y="203" width="6" height="31.8" fill="#dcdcdc" stroke="#2a2a2a" stroke-width="1.1"/>
<line x1="482.95" y1="231.5" x2="488.95" y2="231.5" stroke="#2a2a2a" stroke-width="1.1" />
<line x1="495.8" y1="235.2" x2="495.8" y2="235.2" stroke="#2ab3bd" stroke-width="1.1" />
<line x1="495.8" y1="235.4" x2="495.8" y2="239.7" stroke="#2ab3bd" stroke-width="1.1" />
<line x1="494.4" y1="235.2" x2="497.2" y2="235.2" stroke="#2ab3bd" stroke-width="1.1" />
<line x1="494.4" y1="239.7" x2="497.2" y2="239.7" stroke="#2ab3bd" stroke-width="1.1" />
<rect x="492.8" y="235.2" width="6" height="0.2" fill="#ccf5ee" stroke="#2ab3bd" stroke-width="1.1"/>
<line x1="492.8" y1="235.2" x2="498.8" y2="235.2" stroke="#2ab3bd" stroke-width="1.1" />
<line x1="505.65" y1="229.4" x2="505.65" y2="234.5" stroke="#2a2aa8" stroke-width="1.1" />
<line x1="505.65" y1="235.2" x2="505.65" y2="239.3" stroke="#2a2aa8" stroke-width="1.1" />
<line x1="504.25" y1="229.4" x2="507.05" y2="229.4" stroke="#2a2aa8" stroke-width="1.1" />
<line x1="504.25" y1="239.3" x2="507.05" y2="239.3" stroke="#2a2aa8" stroke-width="1.1" />
<rect x="502.65" y="234.5" width="6" height="0.7" fill="#8383d4" stroke="#2a2aa8" stroke-width="1.1"/>
<line x1="502.65" y1="234.8" x2="508.65" y2="234.8" stroke="#2a2aa8" stroke-width="1.1" />
<line x1="515.5" y1="229.6" x2="515.5" y2="234.2" stroke="#2a2a2a" stroke-width="1.1" />
<line x1="515.5" y1="234.8" x2="515.5" y2="239.2" stroke="#2a2a2a" stroke-width="1.1" />
<line x1="514.1" y1="229.6" x2="516.9" y2="229.6" stroke="#2a2a2a" stroke-width="1.1" />
<line x1="514.1" y1="239.2" x2="516.9" y2="239.2" stroke="#2a2a2a" stroke-width="1.1" />
<rect x="512.5" y="234.2" width="6" height="0.6" fill="#dcdcdc" stroke="#2a2a2a" stroke-width="1.1"/>
<line x1="512.5" y1="234.4" x2="518.5" y2="234.4" stroke="#2a2a2a" stroke-width="1.1" />
<line x1="522.05" y1="234.9" x2="528.65" y2="234.9" stroke="#2ab3bd" stroke-width="1.6" />
<line x1="531.9" y1="234.9" x2="538.5" y2="234.9" stroke="#2a2aa8" stroke-width="1.6" />
<line x1="482.6" y1="247.4" x2="507.3" y2="247.4" stroke="#444" stroke-width="1" />
<line x1="482.6" y1="245" x2="482.6" y2="249.8" stroke="#444" stroke-width="1" />
<line x1="507.3" y1="245" x2="507.3" y2="249.8" stroke="#444" stroke-width="1" />
<line x1="512.1" y1="247.6" x2="537.8" y2="247.6" stroke="#444" stroke-width="1" />
<line x1="512.1" y1="245.2" x2="512.1" y2="250" stroke="#444" stroke-width="1" />
<line x1="537.8" y1="245.2" x2="537.8" y2="250" stroke="#444" stroke-width="1" />
<text x="494.95" y="257" font-size="6.3" fill="#3a3a3a" stroke="#3a3a3a" stroke-width="0.22" text-anchor="middle" textLength="25.1" lengthAdjust="spacingAndGlyphs" >LPS/IFN-γ</text>
<text x="524.95" y="257" font-size="6.3" fill="#3a3a3a" stroke="#3a3a3a" stroke-width="0.22" text-anchor="middle" textLength="24.7" lengthAdjust="spacingAndGlyphs" >IL-4/IL-13</text>
<polyline points="486.4,187 486.4,184.6 495.7,184.6 495.7,187" fill="none" stroke="#555555" stroke-width="0.9"/>
<text x="491.5" y="185.3" font-size="8.2" fill="#1a1a1a" stroke="#1a1a1a" stroke-width="0.4" text-anchor="middle" textLength="7.4" lengthAdjust="spacing">**</text>
<polyline points="486.4,178.5 486.4,175.6 504.8,175.6 504.8,184.8" fill="none" stroke="#555555" stroke-width="0.9"/>
<text x="494.9" y="176.8" font-size="8.2" fill="#1a1a1a" stroke="#1a1a1a" stroke-width="0.4" text-anchor="middle" textLength="2.9" lengthAdjust="spacing">*</text>
<text transform="translate(409.61,173) scale(0.814,1)" font-size="22.82" fill="#000">F</text>
<text x="480.9" y="165.8" font-size="7.7" fill="#333" stroke="#333" stroke-width="0.16" textLength="29.9" lengthAdjust="spacingAndGlyphs">IL-10 6 h</text>
<text transform="translate(433.6,209.9) rotate(-90)" x="0" y="0" font-size="6.38" fill="#333" stroke="#333" stroke-width="0.14" text-anchor="middle" textLength="39.7" lengthAdjust="spacingAndGlyphs">pg / mg tissue</text>
<line x1="73" y1="304" x2="73" y2="362.8" stroke="#dcdcdc" stroke-width="0.8" />
<line x1="101.6" y1="304" x2="101.6" y2="362.8" stroke="#dcdcdc" stroke-width="0.8" />
<line x1="41.6" y1="302.9" x2="41.6" y2="363.3" stroke="#3a3a3a" stroke-width="1" />
<line x1="41.1" y1="362.8" x2="132.1" y2="362.8" stroke="#3a3a3a" stroke-width="1" />
<line x1="39" y1="303.4" x2="41.6" y2="303.4" stroke="#3a3a3a" stroke-width="0.9" />
<text x="38.4" y="305.7" font-size="6.4" fill="#2e2e2e" stroke="#2e2e2e" stroke-width="0.22" text-anchor="end" textLength="8.86" lengthAdjust="spacingAndGlyphs" >100</text>
<line x1="39" y1="323.2" x2="41.6" y2="323.2" stroke="#3a3a3a" stroke-width="0.9" />
<text x="38.4" y="325.5" font-size="6.4" fill="#2e2e2e" stroke="#2e2e2e" stroke-width="0.22" text-anchor="end" textLength="5.91" lengthAdjust="spacingAndGlyphs" >10</text>
<line x1="39" y1="343" x2="41.6" y2="343" stroke="#3a3a3a" stroke-width="0.9" />
<text x="38.4" y="345.3" font-size="6.4" fill="#2e2e2e" stroke="#2e2e2e" stroke-width="0.22" text-anchor="end" >1</text>
<line x1="39" y1="362.8" x2="41.6" y2="362.8" stroke="#3a3a3a" stroke-width="0.9" />
<text x="38.4" y="365.1" font-size="6.4" fill="#2e2e2e" stroke="#2e2e2e" stroke-width="0.22" text-anchor="end" textLength="7.38" lengthAdjust="spacingAndGlyphs" >0.1</text>
<line x1="39.9" y1="317.24" x2="41.6" y2="317.24" stroke="#3a3a3a" stroke-width="0.75" />
<line x1="39.9" y1="313.75" x2="41.6" y2="313.75" stroke="#3a3a3a" stroke-width="0.75" />
<line x1="39.9" y1="311.28" x2="41.6" y2="311.28" stroke="#3a3a3a" stroke-width="0.75" />
<line x1="39.9" y1="309.36" x2="41.6" y2="309.36" stroke="#3a3a3a" stroke-width="0.75" />
<line x1="39.9" y1="307.79" x2="41.6" y2="307.79" stroke="#3a3a3a" stroke-width="0.75" />
<line x1="39.9" y1="306.47" x2="41.6" y2="306.47" stroke="#3a3a3a" stroke-width="0.75" />
<line x1="39.9" y1="305.32" x2="41.6" y2="305.32" stroke="#3a3a3a" stroke-width="0.75" />
<line x1="39.9" y1="304.31" x2="41.6" y2="304.31" stroke="#3a3a3a" stroke-width="0.75" />
<line x1="39.9" y1="337.04" x2="41.6" y2="337.04" stroke="#3a3a3a" stroke-width="0.75" />
<line x1="39.9" y1="333.55" x2="41.6" y2="333.55" stroke="#3a3a3a" stroke-width="0.75" />
<line x1="39.9" y1="331.08" x2="41.6" y2="331.08" stroke="#3a3a3a" stroke-width="0.75" />
<line x1="39.9" y1="329.16" x2="41.6" y2="329.16" stroke="#3a3a3a" stroke-width="0.75" />
<line x1="39.9" y1="327.59" x2="41.6" y2="327.59" stroke="#3a3a3a" stroke-width="0.75" />
<line x1="39.9" y1="326.27" x2="41.6" y2="326.27" stroke="#3a3a3a" stroke-width="0.75" />
<line x1="39.9" y1="325.12" x2="41.6" y2="325.12" stroke="#3a3a3a" stroke-width="0.75" />
<line x1="39.9" y1="324.11" x2="41.6" y2="324.11" stroke="#3a3a3a" stroke-width="0.75" />
<line x1="39.9" y1="356.84" x2="41.6" y2="356.84" stroke="#3a3a3a" stroke-width="0.75" />
<line x1="39.9" y1="353.35" x2="41.6" y2="353.35" stroke="#3a3a3a" stroke-width="0.75" />
<line x1="39.9" y1="350.88" x2="41.6" y2="350.88" stroke="#3a3a3a" stroke-width="0.75" />
<line x1="39.9" y1="348.96" x2="41.6" y2="348.96" stroke="#3a3a3a" stroke-width="0.75" />
<line x1="39.9" y1="347.39" x2="41.6" y2="347.39" stroke="#3a3a3a" stroke-width="0.75" />
<line x1="39.9" y1="346.07" x2="41.6" y2="346.07" stroke="#3a3a3a" stroke-width="0.75" />
<line x1="39.9" y1="344.92" x2="41.6" y2="344.92" stroke="#3a3a3a" stroke-width="0.75" />
<line x1="39.9" y1="343.91" x2="41.6" y2="343.91" stroke="#3a3a3a" stroke-width="0.75" />
<line x1="48.4" y1="362.8" x2="48.4" y2="365.4" stroke="#3a3a3a" stroke-width="0.9" />
<line x1="58" y1="362.8" x2="58" y2="365.4" stroke="#3a3a3a" stroke-width="0.9" />
<line x1="67.6" y1="362.8" x2="67.6" y2="365.4" stroke="#3a3a3a" stroke-width="0.9" />
<line x1="77.2" y1="362.8" x2="77.2" y2="365.4" stroke="#3a3a3a" stroke-width="0.9" />
<line x1="86.8" y1="362.8" x2="86.8" y2="365.4" stroke="#3a3a3a" stroke-width="0.9" />
<line x1="96.4" y1="362.8" x2="96.4" y2="365.4" stroke="#3a3a3a" stroke-width="0.9" />
<line x1="106" y1="362.8" x2="106" y2="365.4" stroke="#3a3a3a" stroke-width="0.9" />
<line x1="115.6" y1="362.8" x2="115.6" y2="365.4" stroke="#3a3a3a" stroke-width="0.9" />
<line x1="125.2" y1="362.8" x2="125.2" y2="365.4" stroke="#3a3a3a" stroke-width="0.9" />
<line x1="48.4" y1="329" x2="48.4" y2="338.5" stroke="#2a2a2a" stroke-width="1.1" />
<line x1="48.4" y1="349.4" x2="48.4" y2="359.3" stroke="#2a2a2a" stroke-width="1.1" />
<line x1="47" y1="329" x2="49.8" y2="329" stroke="#2a2a2a" stroke-width="1.1" />
<line x1="47" y1="359.3" x2="49.8" y2="359.3" stroke="#2a2a2a" stroke-width="1.1" />
<rect x="45.4" y="338.5" width="6" height="10.9" fill="#dcdcdc" stroke="#2a2a2a" stroke-width="1.1"/>
<line x1="45.4" y1="341.3" x2="51.4" y2="341.3" stroke="#2a2a2a" stroke-width="1.1" />
<line x1="58" y1="338.5" x2="58" y2="341.7" stroke="#2ab3bd" stroke-width="1.1" />
<line x1="58" y1="352.2" x2="58" y2="352.5" stroke="#2ab3bd" stroke-width="1.1" />
<line x1="56.6" y1="338.5" x2="59.4" y2="338.5" stroke="#2ab3bd" stroke-width="1.1" />
<line x1="56.6" y1="352.5" x2="59.4" y2="352.5" stroke="#2ab3bd" stroke-width="1.1" />
<rect x="55" y="341.7" width="6" height="10.5" fill="#ccf5ee" stroke="#2ab3bd" stroke-width="1.1"/>
<line x1="55" y1="349.1" x2="61" y2="349.1" stroke="#2ab3bd" stroke-width="1.1" />
<line x1="67.6" y1="341.3" x2="67.6" y2="341.5" stroke="#2a2aa8" stroke-width="1.1" />
<line x1="67.6" y1="347" x2="67.6" y2="354.5" stroke="#2a2aa8" stroke-width="1.1" />
<line x1="66.2" y1="341.3" x2="69" y2="341.3" stroke="#2a2aa8" stroke-width="1.1" />
<line x1="66.2" y1="354.5" x2="69" y2="354.5" stroke="#2a2aa8" stroke-width="1.1" />
<rect x="64.6" y="341.5" width="6" height="5.5" fill="#8383d4" stroke="#2a2aa8" stroke-width="1.1"/>
<line x1="64.6" y1="344.1" x2="70.6" y2="344.1" stroke="#2a2aa8" stroke-width="1.1" />
<line x1="77.2" y1="323.3" x2="77.2" y2="327.3" stroke="#2a2a2a" stroke-width="1.1" />
<line x1="77.2" y1="347" x2="77.2" y2="354" stroke="#2a2a2a" stroke-width="1.1" />
<line x1="75.8" y1="323.3" x2="78.6" y2="323.3" stroke="#2a2a2a" stroke-width="1.1" />
<line x1="75.8" y1="354" x2="78.6" y2="354" stroke="#2a2a2a" stroke-width="1.1" />
<rect x="74.2" y="327.3" width="6" height="19.7" fill="#dcdcdc" stroke="#2a2a2a" stroke-width="1.1"/>
<line x1="74.2" y1="333.5" x2="80.2" y2="333.5" stroke="#2a2a2a" stroke-width="1.1" />
<line x1="86.8" y1="324.7" x2="86.8" y2="333.3" stroke="#2ab3bd" stroke-width="1.1" />
<line x1="86.8" y1="347.4" x2="86.8" y2="347.6" stroke="#2ab3bd" stroke-width="1.1" />
<line x1="85.4" y1="324.7" x2="88.2" y2="324.7" stroke="#2ab3bd" stroke-width="1.1" />
<line x1="85.4" y1="347.6" x2="88.2" y2="347.6" stroke="#2ab3bd" stroke-width="1.1" />
<rect x="83.8" y="333.3" width="6" height="14.1" fill="#ccf5ee" stroke="#2ab3bd" stroke-width="1.1"/>
<line x1="83.8" y1="341.7" x2="89.8" y2="341.7" stroke="#2ab3bd" stroke-width="1.1" />
<line x1="96.4" y1="329.9" x2="96.4" y2="332.8" stroke="#2a2aa8" stroke-width="1.1" />
<line x1="96.4" y1="350.8" x2="96.4" y2="352.2" stroke="#2a2aa8" stroke-width="1.1" />
<line x1="95" y1="329.9" x2="97.8" y2="329.9" stroke="#2a2aa8" stroke-width="1.1" />
<line x1="95" y1="352.2" x2="97.8" y2="352.2" stroke="#2a2aa8" stroke-width="1.1" />
<rect x="93.4" y="332.8" width="6" height="18" fill="#8383d4" stroke="#2a2aa8" stroke-width="1.1"/>
<line x1="93.4" y1="341.3" x2="99.4" y2="341.3" stroke="#2a2aa8" stroke-width="1.1" />
<line x1="106" y1="332.8" x2="106" y2="336.6" stroke="#2a2a2a" stroke-width="1.1" />
<line x1="106" y1="350.2" x2="106" y2="357.3" stroke="#2a2a2a" stroke-width="1.1" />
<line x1="104.6" y1="332.8" x2="107.4" y2="332.8" stroke="#2a2a2a" stroke-width="1.1" />
<line x1="104.6" y1="357.3" x2="107.4" y2="357.3" stroke="#2a2a2a" stroke-width="1.1" />
<rect x="103" y="336.6" width="6" height="13.6" fill="#dcdcdc" stroke="#2a2a2a" stroke-width="1.1"/>
<line x1="103" y1="345.7" x2="109" y2="345.7" stroke="#2a2a2a" stroke-width="1.1" />
<line x1="115.6" y1="340.3" x2="115.6" y2="340.5" stroke="#2ab3bd" stroke-width="1.1" />
<line x1="115.6" y1="354" x2="115.6" y2="354.5" stroke="#2ab3bd" stroke-width="1.1" />
<line x1="114.2" y1="340.3" x2="117" y2="340.3" stroke="#2ab3bd" stroke-width="1.1" />
<line x1="114.2" y1="354.5" x2="117" y2="354.5" stroke="#2ab3bd" stroke-width="1.1" />
<rect x="112.6" y="340.5" width="6" height="13.5" fill="#ccf5ee" stroke="#2ab3bd" stroke-width="1.1"/>
<line x1="112.6" y1="347.6" x2="118.6" y2="347.6" stroke="#2ab3bd" stroke-width="1.1" />
<line x1="125.2" y1="333.6" x2="125.2" y2="337" stroke="#2a2aa8" stroke-width="1.1" />
<line x1="125.2" y1="349.6" x2="125.2" y2="349.8" stroke="#2a2aa8" stroke-width="1.1" />
<line x1="123.8" y1="333.6" x2="126.6" y2="333.6" stroke="#2a2aa8" stroke-width="1.1" />
<line x1="123.8" y1="349.8" x2="126.6" y2="349.8" stroke="#2a2aa8" stroke-width="1.1" />
<rect x="122.2" y="337" width="6" height="12.6" fill="#8383d4" stroke="#2a2aa8" stroke-width="1.1"/>
<line x1="122.2" y1="342.8" x2="128.2" y2="342.8" stroke="#2a2aa8" stroke-width="1.1" />
<line x1="73.5" y1="370.6" x2="98.5" y2="370.6" stroke="#444" stroke-width="1" />
<line x1="73.5" y1="368.2" x2="73.5" y2="373" stroke="#444" stroke-width="1" />
<line x1="98.5" y1="368.2" x2="98.5" y2="373" stroke="#444" stroke-width="1" />
<line x1="102.3" y1="369.2" x2="127.8" y2="369.2" stroke="#444" stroke-width="1" />
<line x1="102.3" y1="366.8" x2="102.3" y2="371.6" stroke="#444" stroke-width="1" />
<line x1="127.8" y1="366.8" x2="127.8" y2="371.6" stroke="#444" stroke-width="1" />
<text x="86" y="379.4" font-size="6.3" fill="#3a3a3a" stroke="#3a3a3a" stroke-width="0.22" text-anchor="middle" textLength="25.4" lengthAdjust="spacingAndGlyphs" >LPS/IFN-γ</text>
<text x="115.05" y="379.4" font-size="6.3" fill="#3a3a3a" stroke="#3a3a3a" stroke-width="0.22" text-anchor="middle" textLength="24.5" lengthAdjust="spacingAndGlyphs" >IL-4/IL-13</text>
<polyline points="48.5,309.1 48.5,306.7 76.1,306.7 76.1,309" fill="none" stroke="#555555" stroke-width="0.9"/>
<text x="61.9" y="306.5" font-size="8.2" fill="#1a1a1a" stroke="#1a1a1a" stroke-width="0.4" text-anchor="middle" textLength="7.4" lengthAdjust="spacing">**</text>
<polyline points="77.5,309 77.5,306.7 97.6,306.7 97.6,309.6" fill="none" stroke="#555555" stroke-width="0.9"/>
<text x="87.7" y="306.5" font-size="8.2" fill="#1a1a1a" stroke="#1a1a1a" stroke-width="0.4" text-anchor="middle" textLength="2.9" lengthAdjust="spacing">*</text>
<text transform="translate(10.26,292.88) scale(0.941,1)" font-size="22.07" fill="#000">G</text>
<text x="68.8" y="287.7" font-size="7.3" fill="#333" stroke="#333" stroke-width="0.16" textLength="35.7" lengthAdjust="spacingAndGlyphs">PGD<tspan font-size="70%" dy="1.6">2</tspan><tspan dy="-1.6"> 24 h</tspan></text>
<text transform="translate(24.6,332) rotate(-90)" x="0" y="0" font-size="6.51" fill="#333" stroke="#333" stroke-width="0.14" text-anchor="middle" textLength="57" lengthAdjust="spacingAndGlyphs">pg MOX-PGD<tspan font-size="70%" dy="1.2">2</tspan><tspan dy="-1.2"> / mg</tspan></text>
<line x1="205.1" y1="304" x2="205.1" y2="364" stroke="#dcdcdc" stroke-width="0.8" />
<line x1="235.2" y1="304" x2="235.2" y2="364" stroke="#dcdcdc" stroke-width="0.8" />
<line x1="175.2" y1="302.7" x2="175.2" y2="364.5" stroke="#3a3a3a" stroke-width="1" />
<line x1="174.7" y1="364" x2="266.6" y2="364" stroke="#3a3a3a" stroke-width="1" />
<line x1="172.6" y1="303.2" x2="175.2" y2="303.2" stroke="#3a3a3a" stroke-width="0.9" />
<text x="172" y="305.68" font-size="6.9" fill="#2e2e2e" stroke="#2e2e2e" stroke-width="0.24" text-anchor="end" textLength="12.74" lengthAdjust="spacingAndGlyphs" >1000</text>
<line x1="172.6" y1="318.4" x2="175.2" y2="318.4" stroke="#3a3a3a" stroke-width="0.9" />
<text x="172" y="320.88" font-size="6.9" fill="#2e2e2e" stroke="#2e2e2e" stroke-width="0.24" text-anchor="end" textLength="9.55" lengthAdjust="spacingAndGlyphs" >100</text>
<line x1="172.6" y1="333.6" x2="175.2" y2="333.6" stroke="#3a3a3a" stroke-width="0.9" />
<text x="172" y="336.08" font-size="6.9" fill="#2e2e2e" stroke="#2e2e2e" stroke-width="0.24" text-anchor="end" textLength="6.37" lengthAdjust="spacingAndGlyphs" >10</text>
<line x1="172.6" y1="348.8" x2="175.2" y2="348.8" stroke="#3a3a3a" stroke-width="0.9" />
<text x="172" y="351.28" font-size="6.9" fill="#2e2e2e" stroke="#2e2e2e" stroke-width="0.24" text-anchor="end" >1</text>
<line x1="172.6" y1="364" x2="175.2" y2="364" stroke="#3a3a3a" stroke-width="0.9" />
<text x="172" y="366.48" font-size="6.9" fill="#2e2e2e" stroke="#2e2e2e" stroke-width="0.24" text-anchor="end" textLength="7.96" lengthAdjust="spacingAndGlyphs" >0.1</text>
<line x1="173.5" y1="313.82" x2="175.2" y2="313.82" stroke="#3a3a3a" stroke-width="0.75" />
<line x1="173.5" y1="311.15" x2="175.2" y2="311.15" stroke="#3a3a3a" stroke-width="0.75" />
<line x1="173.5" y1="309.25" x2="175.2" y2="309.25" stroke="#3a3a3a" stroke-width="0.75" />
<line x1="173.5" y1="307.78" x2="175.2" y2="307.78" stroke="#3a3a3a" stroke-width="0.75" />
<line x1="173.5" y1="306.57" x2="175.2" y2="306.57" stroke="#3a3a3a" stroke-width="0.75" />
<line x1="173.5" y1="305.55" x2="175.2" y2="305.55" stroke="#3a3a3a" stroke-width="0.75" />
<line x1="173.5" y1="304.67" x2="175.2" y2="304.67" stroke="#3a3a3a" stroke-width="0.75" />
<line x1="173.5" y1="303.9" x2="175.2" y2="303.9" stroke="#3a3a3a" stroke-width="0.75" />
<line x1="173.5" y1="329.02" x2="175.2" y2="329.02" stroke="#3a3a3a" stroke-width="0.75" />
<line x1="173.5" y1="326.35" x2="175.2" y2="326.35" stroke="#3a3a3a" stroke-width="0.75" />
<line x1="173.5" y1="324.45" x2="175.2" y2="324.45" stroke="#3a3a3a" stroke-width="0.75" />
<line x1="173.5" y1="322.98" x2="175.2" y2="322.98" stroke="#3a3a3a" stroke-width="0.75" />
<line x1="173.5" y1="321.77" x2="175.2" y2="321.77" stroke="#3a3a3a" stroke-width="0.75" />
<line x1="173.5" y1="320.75" x2="175.2" y2="320.75" stroke="#3a3a3a" stroke-width="0.75" />
<line x1="173.5" y1="319.87" x2="175.2" y2="319.87" stroke="#3a3a3a" stroke-width="0.75" />
<line x1="173.5" y1="319.1" x2="175.2" y2="319.1" stroke="#3a3a3a" stroke-width="0.75" />
<line x1="173.5" y1="344.22" x2="175.2" y2="344.22" stroke="#3a3a3a" stroke-width="0.75" />
<line x1="173.5" y1="341.55" x2="175.2" y2="341.55" stroke="#3a3a3a" stroke-width="0.75" />
<line x1="173.5" y1="339.65" x2="175.2" y2="339.65" stroke="#3a3a3a" stroke-width="0.75" />
<line x1="173.5" y1="338.18" x2="175.2" y2="338.18" stroke="#3a3a3a" stroke-width="0.75" />
<line x1="173.5" y1="336.97" x2="175.2" y2="336.97" stroke="#3a3a3a" stroke-width="0.75" />
<line x1="173.5" y1="335.95" x2="175.2" y2="335.95" stroke="#3a3a3a" stroke-width="0.75" />
<line x1="173.5" y1="335.07" x2="175.2" y2="335.07" stroke="#3a3a3a" stroke-width="0.75" />
<line x1="173.5" y1="334.3" x2="175.2" y2="334.3" stroke="#3a3a3a" stroke-width="0.75" />
<line x1="173.5" y1="359.42" x2="175.2" y2="359.42" stroke="#3a3a3a" stroke-width="0.75" />
<line x1="173.5" y1="356.75" x2="175.2" y2="356.75" stroke="#3a3a3a" stroke-width="0.75" />
<line x1="173.5" y1="354.85" x2="175.2" y2="354.85" stroke="#3a3a3a" stroke-width="0.75" />
<line x1="173.5" y1="353.38" x2="175.2" y2="353.38" stroke="#3a3a3a" stroke-width="0.75" />
<line x1="173.5" y1="352.17" x2="175.2" y2="352.17" stroke="#3a3a3a" stroke-width="0.75" />
<line x1="173.5" y1="351.15" x2="175.2" y2="351.15" stroke="#3a3a3a" stroke-width="0.75" />
<line x1="173.5" y1="350.27" x2="175.2" y2="350.27" stroke="#3a3a3a" stroke-width="0.75" />
<line x1="173.5" y1="349.5" x2="175.2" y2="349.5" stroke="#3a3a3a" stroke-width="0.75" />
<line x1="181.5" y1="364" x2="181.5" y2="366.6" stroke="#3a3a3a" stroke-width="0.9" />
<line x1="191.17" y1="364" x2="191.17" y2="366.6" stroke="#3a3a3a" stroke-width="0.9" />
<line x1="200.84" y1="364" x2="200.84" y2="366.6" stroke="#3a3a3a" stroke-width="0.9" />
<line x1="210.51" y1="364" x2="210.51" y2="366.6" stroke="#3a3a3a" stroke-width="0.9" />
<line x1="220.18" y1="364" x2="220.18" y2="366.6" stroke="#3a3a3a" stroke-width="0.9" />
<line x1="229.85" y1="364" x2="229.85" y2="366.6" stroke="#3a3a3a" stroke-width="0.9" />
<line x1="239.52" y1="364" x2="239.52" y2="366.6" stroke="#3a3a3a" stroke-width="0.9" />
<line x1="249.19" y1="364" x2="249.19" y2="366.6" stroke="#3a3a3a" stroke-width="0.9" />
<line x1="258.86" y1="364" x2="258.86" y2="366.6" stroke="#3a3a3a" stroke-width="0.9" />
<line x1="181.5" y1="329.7" x2="181.5" y2="338.5" stroke="#2a2a2a" stroke-width="1.1" />
<line x1="181.5" y1="347.7" x2="181.5" y2="350.5" stroke="#2a2a2a" stroke-width="1.1" />
<line x1="180.1" y1="329.7" x2="182.9" y2="329.7" stroke="#2a2a2a" stroke-width="1.1" />
<line x1="180.1" y1="350.5" x2="182.9" y2="350.5" stroke="#2a2a2a" stroke-width="1.1" />
<rect x="178.5" y="338.5" width="6" height="9.2" fill="#dcdcdc" stroke="#2a2a2a" stroke-width="1.1"/>
<line x1="178.5" y1="341.5" x2="184.5" y2="341.5" stroke="#2a2a2a" stroke-width="1.1" />
<line x1="191.17" y1="343.7" x2="191.17" y2="343.9" stroke="#2ab3bd" stroke-width="1.1" />
<line x1="191.17" y1="350.5" x2="191.17" y2="350.7" stroke="#2ab3bd" stroke-width="1.1" />
<line x1="189.77" y1="343.7" x2="192.57" y2="343.7" stroke="#2ab3bd" stroke-width="1.1" />
<line x1="189.77" y1="350.7" x2="192.57" y2="350.7" stroke="#2ab3bd" stroke-width="1.1" />
<rect x="188.17" y="343.9" width="6" height="6.6" fill="#ccf5ee" stroke="#2ab3bd" stroke-width="1.1"/>
<line x1="188.17" y1="347.7" x2="194.17" y2="347.7" stroke="#2ab3bd" stroke-width="1.1" />
<line x1="200.84" y1="336.4" x2="200.84" y2="337" stroke="#2a2aa8" stroke-width="1.1" />
<line x1="200.84" y1="344.2" x2="200.84" y2="350.5" stroke="#2a2aa8" stroke-width="1.1" />
<line x1="199.44" y1="336.4" x2="202.24" y2="336.4" stroke="#2a2aa8" stroke-width="1.1" />
<line x1="199.44" y1="350.5" x2="202.24" y2="350.5" stroke="#2a2aa8" stroke-width="1.1" />
<rect x="197.84" y="337" width="6" height="7.2" fill="#8383d4" stroke="#2a2aa8" stroke-width="1.1"/>
<line x1="197.84" y1="340.2" x2="203.84" y2="340.2" stroke="#2a2aa8" stroke-width="1.1" />
<line x1="210.51" y1="315.5" x2="210.51" y2="321.6" stroke="#2a2a2a" stroke-width="1.1" />
<line x1="210.51" y1="344.6" x2="210.51" y2="346.2" stroke="#2a2a2a" stroke-width="1.1" />
<line x1="209.11" y1="315.5" x2="211.91" y2="315.5" stroke="#2a2a2a" stroke-width="1.1" />
<line x1="209.11" y1="346.2" x2="211.91" y2="346.2" stroke="#2a2a2a" stroke-width="1.1" />
<rect x="207.51" y="321.6" width="6" height="23" fill="#dcdcdc" stroke="#2a2a2a" stroke-width="1.1"/>
<line x1="207.51" y1="328.3" x2="213.51" y2="328.3" stroke="#2a2a2a" stroke-width="1.1" />
<line x1="220.18" y1="317.4" x2="220.18" y2="323.3" stroke="#2ab3bd" stroke-width="1.1" />
<line x1="220.18" y1="344.9" x2="220.18" y2="345" stroke="#2ab3bd" stroke-width="1.1" />
<line x1="218.78" y1="317.4" x2="221.58" y2="317.4" stroke="#2ab3bd" stroke-width="1.1" />
<line x1="218.78" y1="345" x2="221.58" y2="345" stroke="#2ab3bd" stroke-width="1.1" />
<rect x="217.18" y="323.3" width="6" height="21.6" fill="#ccf5ee" stroke="#2ab3bd" stroke-width="1.1"/>
<line x1="217.18" y1="323.8" x2="223.18" y2="323.8" stroke="#2ab3bd" stroke-width="1.1" />
<line x1="229.85" y1="327.3" x2="229.85" y2="333" stroke="#2a2aa8" stroke-width="1.1" />
<line x1="229.85" y1="341" x2="229.85" y2="346.3" stroke="#2a2aa8" stroke-width="1.1" />
<line x1="228.45" y1="327.3" x2="231.25" y2="327.3" stroke="#2a2aa8" stroke-width="1.1" />
<line x1="228.45" y1="346.3" x2="231.25" y2="346.3" stroke="#2a2aa8" stroke-width="1.1" />
<rect x="226.85" y="333" width="6" height="8" fill="#8383d4" stroke="#2a2aa8" stroke-width="1.1"/>
<line x1="226.85" y1="337.5" x2="232.85" y2="337.5" stroke="#2a2aa8" stroke-width="1.1" />
<line x1="239.52" y1="334" x2="239.52" y2="337.2" stroke="#2a2a2a" stroke-width="1.1" />
<line x1="239.52" y1="346.4" x2="239.52" y2="346.6" stroke="#2a2a2a" stroke-width="1.1" />
<line x1="238.12" y1="334" x2="240.92" y2="334" stroke="#2a2a2a" stroke-width="1.1" />
<line x1="238.12" y1="346.6" x2="240.92" y2="346.6" stroke="#2a2a2a" stroke-width="1.1" />
<rect x="236.52" y="337.2" width="6" height="9.2" fill="#dcdcdc" stroke="#2a2a2a" stroke-width="1.1"/>
<line x1="236.52" y1="341.6" x2="242.52" y2="341.6" stroke="#2a2a2a" stroke-width="1.1" />
<line x1="249.19" y1="336.6" x2="249.19" y2="336.8" stroke="#2ab3bd" stroke-width="1.1" />
<line x1="249.19" y1="347.8" x2="249.19" y2="349.3" stroke="#2ab3bd" stroke-width="1.1" />
<line x1="247.79" y1="336.6" x2="250.59" y2="336.6" stroke="#2ab3bd" stroke-width="1.1" />
<line x1="247.79" y1="349.3" x2="250.59" y2="349.3" stroke="#2ab3bd" stroke-width="1.1" />
<rect x="246.19" y="336.8" width="6" height="11" fill="#ccf5ee" stroke="#2ab3bd" stroke-width="1.1"/>
<line x1="246.19" y1="342" x2="252.19" y2="342" stroke="#2ab3bd" stroke-width="1.1" />
<line x1="258.86" y1="337.7" x2="258.86" y2="339" stroke="#2a2aa8" stroke-width="1.1" />
<line x1="258.86" y1="344.9" x2="258.86" y2="345.2" stroke="#2a2aa8" stroke-width="1.1" />
<line x1="257.46" y1="337.7" x2="260.26" y2="337.7" stroke="#2a2aa8" stroke-width="1.1" />
<line x1="257.46" y1="345.2" x2="260.26" y2="345.2" stroke="#2a2aa8" stroke-width="1.1" />
<rect x="255.86" y="339" width="6" height="5.9" fill="#8383d4" stroke="#2a2aa8" stroke-width="1.1"/>
<line x1="255.86" y1="342" x2="261.86" y2="342" stroke="#2a2aa8" stroke-width="1.1" />
<line x1="207.1" y1="370.4" x2="232.3" y2="370.4" stroke="#444" stroke-width="1" />
<line x1="207.1" y1="368" x2="207.1" y2="372.8" stroke="#444" stroke-width="1" />
<line x1="232.3" y1="368" x2="232.3" y2="372.8" stroke="#444" stroke-width="1" />
<line x1="236.4" y1="370.6" x2="261.8" y2="370.6" stroke="#444" stroke-width="1" />
<line x1="236.4" y1="368.2" x2="236.4" y2="373" stroke="#444" stroke-width="1" />
<line x1="261.8" y1="368.2" x2="261.8" y2="373" stroke="#444" stroke-width="1" />
<text x="219.7" y="378.9" font-size="6.3" fill="#3a3a3a" stroke="#3a3a3a" stroke-width="0.22" text-anchor="middle" textLength="25.6" lengthAdjust="spacingAndGlyphs" >LPS/IFN-γ</text>
<text x="249.1" y="378.9" font-size="6.3" fill="#3a3a3a" stroke="#3a3a3a" stroke-width="0.22" text-anchor="middle" textLength="24.4" lengthAdjust="spacingAndGlyphs" >IL-4/IL-13</text>
<polyline points="181.3,313.4 181.3,303.8 210,303.8 210,306.3" fill="none" stroke="#555555" stroke-width="0.9"/>
<text x="194.8" y="304" font-size="8.2" fill="#1a1a1a" stroke="#1a1a1a" stroke-width="0.4" text-anchor="middle" textLength="11.9" lengthAdjust="spacing">***</text>
<text transform="translate(147.31,293.4) scale(1.020,1)" font-size="23.11" fill="#000">H</text>
<text x="201.9" y="288.6" font-size="7.5" fill="#333" stroke="#333" stroke-width="0.16" textLength="36.8" lengthAdjust="spacingAndGlyphs">TNF-α 24 h</text>
<text transform="translate(155.2,332.7) rotate(-90)" x="0" y="0" font-size="6.38" fill="#333" stroke="#333" stroke-width="0.14" text-anchor="middle" textLength="39.7" lengthAdjust="spacingAndGlyphs">pg / mg tissue</text>
<line x1="341.8" y1="303" x2="341.8" y2="363.7" stroke="#dcdcdc" stroke-width="0.8" />
<line x1="371.2" y1="303" x2="371.2" y2="363.7" stroke="#dcdcdc" stroke-width="0.8" />
<line x1="310.4" y1="301.8" x2="310.4" y2="364.2" stroke="#3a3a3a" stroke-width="1" />
<line x1="309.9" y1="363.7" x2="401.2" y2="363.7" stroke="#3a3a3a" stroke-width="1" />
<line x1="307.8" y1="302.3" x2="310.4" y2="302.3" stroke="#3a3a3a" stroke-width="0.9" />
<text x="307.2" y="304.78" font-size="6.9" fill="#2e2e2e" stroke="#2e2e2e" stroke-width="0.24" text-anchor="end" textLength="12.74" lengthAdjust="spacingAndGlyphs" >1000</text>
<line x1="307.8" y1="322.8" x2="310.4" y2="322.8" stroke="#3a3a3a" stroke-width="0.9" />
<text x="307.2" y="325.28" font-size="6.9" fill="#2e2e2e" stroke="#2e2e2e" stroke-width="0.24" text-anchor="end" textLength="9.55" lengthAdjust="spacingAndGlyphs" >100</text>
<line x1="307.8" y1="343.2" x2="310.4" y2="343.2" stroke="#3a3a3a" stroke-width="0.9" />
<text x="307.2" y="345.68" font-size="6.9" fill="#2e2e2e" stroke="#2e2e2e" stroke-width="0.24" text-anchor="end" textLength="6.37" lengthAdjust="spacingAndGlyphs" >10</text>
<line x1="307.8" y1="363.7" x2="310.4" y2="363.7" stroke="#3a3a3a" stroke-width="0.9" />
<text x="307.2" y="366.18" font-size="6.9" fill="#2e2e2e" stroke="#2e2e2e" stroke-width="0.24" text-anchor="end" >1</text>
<line x1="308.7" y1="316.63" x2="310.4" y2="316.63" stroke="#3a3a3a" stroke-width="0.75" />
<line x1="308.7" y1="313.02" x2="310.4" y2="313.02" stroke="#3a3a3a" stroke-width="0.75" />
<line x1="308.7" y1="310.46" x2="310.4" y2="310.46" stroke="#3a3a3a" stroke-width="0.75" />
<line x1="308.7" y1="308.47" x2="310.4" y2="308.47" stroke="#3a3a3a" stroke-width="0.75" />
<line x1="308.7" y1="306.85" x2="310.4" y2="306.85" stroke="#3a3a3a" stroke-width="0.75" />
<line x1="308.7" y1="305.48" x2="310.4" y2="305.48" stroke="#3a3a3a" stroke-width="0.75" />
<line x1="308.7" y1="304.29" x2="310.4" y2="304.29" stroke="#3a3a3a" stroke-width="0.75" />
<line x1="308.7" y1="303.24" x2="310.4" y2="303.24" stroke="#3a3a3a" stroke-width="0.75" />
<line x1="308.7" y1="337.06" x2="310.4" y2="337.06" stroke="#3a3a3a" stroke-width="0.75" />
<line x1="308.7" y1="333.47" x2="310.4" y2="333.47" stroke="#3a3a3a" stroke-width="0.75" />
<line x1="308.7" y1="330.92" x2="310.4" y2="330.92" stroke="#3a3a3a" stroke-width="0.75" />
<line x1="308.7" y1="328.94" x2="310.4" y2="328.94" stroke="#3a3a3a" stroke-width="0.75" />
<line x1="308.7" y1="327.33" x2="310.4" y2="327.33" stroke="#3a3a3a" stroke-width="0.75" />
<line x1="308.7" y1="325.96" x2="310.4" y2="325.96" stroke="#3a3a3a" stroke-width="0.75" />
<line x1="308.7" y1="324.78" x2="310.4" y2="324.78" stroke="#3a3a3a" stroke-width="0.75" />
<line x1="308.7" y1="323.73" x2="310.4" y2="323.73" stroke="#3a3a3a" stroke-width="0.75" />
<line x1="308.7" y1="357.53" x2="310.4" y2="357.53" stroke="#3a3a3a" stroke-width="0.75" />
<line x1="308.7" y1="353.92" x2="310.4" y2="353.92" stroke="#3a3a3a" stroke-width="0.75" />
<line x1="308.7" y1="351.36" x2="310.4" y2="351.36" stroke="#3a3a3a" stroke-width="0.75" />
<line x1="308.7" y1="349.37" x2="310.4" y2="349.37" stroke="#3a3a3a" stroke-width="0.75" />
<line x1="308.7" y1="347.75" x2="310.4" y2="347.75" stroke="#3a3a3a" stroke-width="0.75" />
<line x1="308.7" y1="346.38" x2="310.4" y2="346.38" stroke="#3a3a3a" stroke-width="0.75" />
<line x1="308.7" y1="345.19" x2="310.4" y2="345.19" stroke="#3a3a3a" stroke-width="0.75" />
<line x1="308.7" y1="344.14" x2="310.4" y2="344.14" stroke="#3a3a3a" stroke-width="0.75" />
<line x1="317.2" y1="363.7" x2="317.2" y2="366.3" stroke="#3a3a3a" stroke-width="0.9" />
<line x1="326.95" y1="363.7" x2="326.95" y2="366.3" stroke="#3a3a3a" stroke-width="0.9" />
<line x1="336.7" y1="363.7" x2="336.7" y2="366.3" stroke="#3a3a3a" stroke-width="0.9" />
<line x1="346.45" y1="363.7" x2="346.45" y2="366.3" stroke="#3a3a3a" stroke-width="0.9" />
<line x1="356.2" y1="363.7" x2="356.2" y2="366.3" stroke="#3a3a3a" stroke-width="0.9" />
<line x1="365.95" y1="363.7" x2="365.95" y2="366.3" stroke="#3a3a3a" stroke-width="0.9" />
<line x1="375.7" y1="363.7" x2="375.7" y2="366.3" stroke="#3a3a3a" stroke-width="0.9" />
<line x1="385.45" y1="363.7" x2="385.45" y2="366.3" stroke="#3a3a3a" stroke-width="0.9" />
<line x1="395.2" y1="363.7" x2="395.2" y2="366.3" stroke="#3a3a3a" stroke-width="0.9" />
<line x1="317.2" y1="315.1" x2="317.2" y2="320.2" stroke="#2a2a2a" stroke-width="1.1" />
<line x1="317.2" y1="352" x2="317.2" y2="358.3" stroke="#2a2a2a" stroke-width="1.1" />
<line x1="315.8" y1="315.1" x2="318.6" y2="315.1" stroke="#2a2a2a" stroke-width="1.1" />
<line x1="315.8" y1="358.3" x2="318.6" y2="358.3" stroke="#2a2a2a" stroke-width="1.1" />
<rect x="314.2" y="320.2" width="6" height="31.8" fill="#dcdcdc" stroke="#2a2a2a" stroke-width="1.1"/>
<line x1="314.2" y1="333" x2="320.2" y2="333" stroke="#2a2a2a" stroke-width="1.1" />
<line x1="326.95" y1="335.4" x2="326.95" y2="336.4" stroke="#2ab3bd" stroke-width="1.1" />
<line x1="326.95" y1="343.9" x2="326.95" y2="346.3" stroke="#2ab3bd" stroke-width="1.1" />
<line x1="325.55" y1="335.4" x2="328.35" y2="335.4" stroke="#2ab3bd" stroke-width="1.1" />
<line x1="325.55" y1="346.3" x2="328.35" y2="346.3" stroke="#2ab3bd" stroke-width="1.1" />
<rect x="323.95" y="336.4" width="6" height="7.5" fill="#ccf5ee" stroke="#2ab3bd" stroke-width="1.1"/>
<line x1="323.95" y1="340.1" x2="329.95" y2="340.1" stroke="#2ab3bd" stroke-width="1.1" />
<line x1="336.7" y1="322.2" x2="336.7" y2="327.9" stroke="#2a2aa8" stroke-width="1.1" />
<line x1="336.7" y1="335" x2="336.7" y2="350.1" stroke="#2a2aa8" stroke-width="1.1" />
<line x1="335.3" y1="322.2" x2="338.1" y2="322.2" stroke="#2a2aa8" stroke-width="1.1" />
<line x1="335.3" y1="350.1" x2="338.1" y2="350.1" stroke="#2a2aa8" stroke-width="1.1" />
<rect x="333.7" y="327.9" width="6" height="7.1" fill="#8383d4" stroke="#2a2aa8" stroke-width="1.1"/>
<line x1="333.7" y1="331.8" x2="339.7" y2="331.8" stroke="#2a2aa8" stroke-width="1.1" />
<line x1="346.45" y1="312.3" x2="346.45" y2="314.1" stroke="#2a2a2a" stroke-width="1.1" />
<line x1="346.45" y1="350.5" x2="346.45" y2="355.2" stroke="#2a2a2a" stroke-width="1.1" />
<line x1="345.05" y1="312.3" x2="347.85" y2="312.3" stroke="#2a2a2a" stroke-width="1.1" />
<line x1="345.05" y1="355.2" x2="347.85" y2="355.2" stroke="#2a2a2a" stroke-width="1.1" />
<rect x="343.45" y="314.1" width="6" height="36.4" fill="#dcdcdc" stroke="#2a2a2a" stroke-width="1.1"/>
<line x1="343.45" y1="325" x2="349.45" y2="325" stroke="#2a2a2a" stroke-width="1.1" />
<line x1="356.2" y1="313.4" x2="356.2" y2="315.5" stroke="#2ab3bd" stroke-width="1.1" />
<line x1="356.2" y1="338.6" x2="356.2" y2="343.5" stroke="#2ab3bd" stroke-width="1.1" />
<line x1="354.8" y1="313.4" x2="357.6" y2="313.4" stroke="#2ab3bd" stroke-width="1.1" />
<line x1="354.8" y1="343.5" x2="357.6" y2="343.5" stroke="#2ab3bd" stroke-width="1.1" />
<rect x="353.2" y="315.5" width="6" height="23.1" fill="#ccf5ee" stroke="#2ab3bd" stroke-width="1.1"/>
<line x1="353.2" y1="318" x2="359.2" y2="318" stroke="#2ab3bd" stroke-width="1.1" />
<line x1="365.95" y1="318.5" x2="365.95" y2="318.8" stroke="#2a2aa8" stroke-width="1.1" />
<line x1="365.95" y1="334.4" x2="365.95" y2="358.3" stroke="#2a2aa8" stroke-width="1.1" />
<line x1="364.55" y1="318.5" x2="367.35" y2="318.5" stroke="#2a2aa8" stroke-width="1.1" />
<line x1="364.55" y1="358.3" x2="367.35" y2="358.3" stroke="#2a2aa8" stroke-width="1.1" />
<rect x="362.95" y="318.8" width="6" height="15.6" fill="#8383d4" stroke="#2a2aa8" stroke-width="1.1"/>
<line x1="362.95" y1="320.8" x2="368.95" y2="320.8" stroke="#2a2aa8" stroke-width="1.1" />
<line x1="375.7" y1="321.9" x2="375.7" y2="323.7" stroke="#2a2a2a" stroke-width="1.1" />
<line x1="375.7" y1="344.9" x2="375.7" y2="355.2" stroke="#2a2a2a" stroke-width="1.1" />
<line x1="374.3" y1="321.9" x2="377.1" y2="321.9" stroke="#2a2a2a" stroke-width="1.1" />
<line x1="374.3" y1="355.2" x2="377.1" y2="355.2" stroke="#2a2a2a" stroke-width="1.1" />
<rect x="372.7" y="323.7" width="6" height="21.2" fill="#dcdcdc" stroke="#2a2a2a" stroke-width="1.1"/>
<line x1="372.7" y1="331.8" x2="378.7" y2="331.8" stroke="#2a2a2a" stroke-width="1.1" />
<line x1="385.45" y1="325.2" x2="385.45" y2="326.3" stroke="#2ab3bd" stroke-width="1.1" />
<line x1="385.45" y1="341.6" x2="385.45" y2="344.3" stroke="#2ab3bd" stroke-width="1.1" />
<line x1="384.05" y1="325.2" x2="386.85" y2="325.2" stroke="#2ab3bd" stroke-width="1.1" />
<line x1="384.05" y1="344.3" x2="386.85" y2="344.3" stroke="#2ab3bd" stroke-width="1.1" />
<rect x="382.45" y="326.3" width="6" height="15.3" fill="#ccf5ee" stroke="#2ab3bd" stroke-width="1.1"/>
<line x1="382.45" y1="334" x2="388.45" y2="334" stroke="#2ab3bd" stroke-width="1.1" />
<line x1="395.2" y1="323.7" x2="395.2" y2="328" stroke="#2a2aa8" stroke-width="1.1" />
<line x1="395.2" y1="358.1" x2="395.2" y2="358.3" stroke="#2a2aa8" stroke-width="1.1" />
<line x1="393.8" y1="323.7" x2="396.6" y2="323.7" stroke="#2a2aa8" stroke-width="1.1" />
<line x1="393.8" y1="358.3" x2="396.6" y2="358.3" stroke="#2a2aa8" stroke-width="1.1" />
<rect x="392.2" y="328" width="6" height="30.1" fill="#8383d4" stroke="#2a2aa8" stroke-width="1.1"/>
<line x1="392.2" y1="336.8" x2="398.2" y2="336.8" stroke="#2a2aa8" stroke-width="1.1" />
<line x1="343.5" y1="370.4" x2="368.8" y2="370.4" stroke="#444" stroke-width="1" />
<line x1="343.5" y1="368" x2="343.5" y2="372.8" stroke="#444" stroke-width="1" />
<line x1="368.8" y1="368" x2="368.8" y2="372.8" stroke="#444" stroke-width="1" />
<line x1="373.1" y1="370.6" x2="399" y2="370.6" stroke="#444" stroke-width="1" />
<line x1="373.1" y1="368.2" x2="373.1" y2="373" stroke="#444" stroke-width="1" />
<line x1="399" y1="368.2" x2="399" y2="373" stroke="#444" stroke-width="1" />
<text x="356.15" y="378.9" font-size="6.3" fill="#3a3a3a" stroke="#3a3a3a" stroke-width="0.22" text-anchor="middle" textLength="25.7" lengthAdjust="spacingAndGlyphs" >LPS/IFN-γ</text>
<text x="386.05" y="378.9" font-size="6.3" fill="#3a3a3a" stroke="#3a3a3a" stroke-width="0.22" text-anchor="middle" textLength="24.9" lengthAdjust="spacingAndGlyphs" >IL-4/IL-13</text>
<text transform="translate(284.26,293) scale(1.150,1)" font-size="22.6" fill="#000">I</text>
<text x="341.9" y="288.4" font-size="7.6" fill="#333" stroke="#333" stroke-width="0.16" textLength="29.1" lengthAdjust="spacingAndGlyphs">IL-6 24 h</text>
<text transform="translate(291.3,332) rotate(-90)" x="0" y="0" font-size="6.59" fill="#333" stroke="#333" stroke-width="0.14" text-anchor="middle" textLength="41" lengthAdjust="spacingAndGlyphs">pg / mg tissue</text>
<line x1="479" y1="303" x2="479" y2="363.7" stroke="#dcdcdc" stroke-width="0.8" />
<line x1="507.6" y1="303" x2="507.6" y2="363.7" stroke="#dcdcdc" stroke-width="0.8" />
<line x1="446.8" y1="301.7" x2="446.8" y2="364.2" stroke="#3a3a3a" stroke-width="1" />
<line x1="446.3" y1="363.7" x2="540" y2="363.7" stroke="#3a3a3a" stroke-width="1" />
<line x1="444.2" y1="302.2" x2="446.8" y2="302.2" stroke="#3a3a3a" stroke-width="0.9" />
<text x="443.6" y="304.68" font-size="6.9" fill="#2e2e2e" stroke="#2e2e2e" stroke-width="0.24" text-anchor="end" textLength="12.74" lengthAdjust="spacingAndGlyphs" >1000</text>
<line x1="444.2" y1="314.5" x2="446.8" y2="314.5" stroke="#3a3a3a" stroke-width="0.9" />
<text x="443.6" y="316.98" font-size="6.9" fill="#2e2e2e" stroke="#2e2e2e" stroke-width="0.24" text-anchor="end" textLength="9.55" lengthAdjust="spacingAndGlyphs" >800</text>
<line x1="444.2" y1="326.8" x2="446.8" y2="326.8" stroke="#3a3a3a" stroke-width="0.9" />
<text x="443.6" y="329.28" font-size="6.9" fill="#2e2e2e" stroke="#2e2e2e" stroke-width="0.24" text-anchor="end" textLength="9.55" lengthAdjust="spacingAndGlyphs" >600</text>
<line x1="444.2" y1="339.1" x2="446.8" y2="339.1" stroke="#3a3a3a" stroke-width="0.9" />
<text x="443.6" y="341.58" font-size="6.9" fill="#2e2e2e" stroke="#2e2e2e" stroke-width="0.24" text-anchor="end" textLength="9.55" lengthAdjust="spacingAndGlyphs" >400</text>
<line x1="444.2" y1="351.4" x2="446.8" y2="351.4" stroke="#3a3a3a" stroke-width="0.9" />
<text x="443.6" y="353.88" font-size="6.9" fill="#2e2e2e" stroke="#2e2e2e" stroke-width="0.24" text-anchor="end" textLength="9.55" lengthAdjust="spacingAndGlyphs" >200</text>
<line x1="444.2" y1="363.7" x2="446.8" y2="363.7" stroke="#3a3a3a" stroke-width="0.9" />
<text x="443.6" y="366.18" font-size="6.9" fill="#2e2e2e" stroke="#2e2e2e" stroke-width="0.24" text-anchor="end" >0</text>
<line x1="453.9" y1="363.7" x2="453.9" y2="366.3" stroke="#3a3a3a" stroke-width="0.9" />
<line x1="463.7" y1="363.7" x2="463.7" y2="366.3" stroke="#3a3a3a" stroke-width="0.9" />
<line x1="473.5" y1="363.7" x2="473.5" y2="366.3" stroke="#3a3a3a" stroke-width="0.9" />
<line x1="483.3" y1="363.7" x2="483.3" y2="366.3" stroke="#3a3a3a" stroke-width="0.9" />
<line x1="493.1" y1="363.7" x2="493.1" y2="366.3" stroke="#3a3a3a" stroke-width="0.9" />
<line x1="502.9" y1="363.7" x2="502.9" y2="366.3" stroke="#3a3a3a" stroke-width="0.9" />
<line x1="512.7" y1="363.7" x2="512.7" y2="366.3" stroke="#3a3a3a" stroke-width="0.9" />
<line x1="522.5" y1="363.7" x2="522.5" y2="366.3" stroke="#3a3a3a" stroke-width="0.9" />
<line x1="532.3" y1="363.7" x2="532.3" y2="366.3" stroke="#3a3a3a" stroke-width="0.9" />
<line x1="453.9" y1="346.3" x2="453.9" y2="353" stroke="#2a2a2a" stroke-width="1.1" />
<line x1="453.9" y1="359" x2="453.9" y2="359" stroke="#2a2a2a" stroke-width="1.1" />
<line x1="452.5" y1="346.3" x2="455.3" y2="346.3" stroke="#2a2a2a" stroke-width="1.1" />
<line x1="452.5" y1="359" x2="455.3" y2="359" stroke="#2a2a2a" stroke-width="1.1" />
<rect x="450.9" y="353" width="6" height="6" fill="#dcdcdc" stroke="#2a2a2a" stroke-width="1.1"/>
<line x1="450.9" y1="358.5" x2="456.9" y2="358.5" stroke="#2a2a2a" stroke-width="1.1" />
<line x1="460.4" y1="359.5" x2="467" y2="359.5" stroke="#2ab3bd" stroke-width="1.6" />
<line x1="470.2" y1="359" x2="476.8" y2="359" stroke="#2a2aa8" stroke-width="1.6" />
<line x1="483.3" y1="315.1" x2="483.3" y2="339.2" stroke="#2a2a2a" stroke-width="1.1" />
<line x1="483.3" y1="359" x2="483.3" y2="359" stroke="#2a2a2a" stroke-width="1.1" />
<line x1="481.9" y1="315.1" x2="484.7" y2="315.1" stroke="#2a2a2a" stroke-width="1.1" />
<line x1="481.9" y1="359" x2="484.7" y2="359" stroke="#2a2a2a" stroke-width="1.1" />
<rect x="480.3" y="339.2" width="6" height="19.8" fill="#dcdcdc" stroke="#2a2a2a" stroke-width="1.1"/>
<line x1="480.3" y1="356.9" x2="486.3" y2="356.9" stroke="#2a2a2a" stroke-width="1.1" />
<line x1="493.1" y1="333.5" x2="493.1" y2="337.5" stroke="#2ab3bd" stroke-width="1.1" />
<line x1="493.1" y1="359" x2="493.1" y2="359" stroke="#2ab3bd" stroke-width="1.1" />
<line x1="491.7" y1="333.5" x2="494.5" y2="333.5" stroke="#2ab3bd" stroke-width="1.1" />
<line x1="491.7" y1="359" x2="494.5" y2="359" stroke="#2ab3bd" stroke-width="1.1" />
<rect x="490.1" y="337.5" width="6" height="21.5" fill="#ccf5ee" stroke="#2ab3bd" stroke-width="1.1"/>
<line x1="490.1" y1="356.6" x2="496.1" y2="356.6" stroke="#2ab3bd" stroke-width="1.1" />
<line x1="502.9" y1="351.3" x2="502.9" y2="352.7" stroke="#2a2aa8" stroke-width="1.1" />
<line x1="502.9" y1="359" x2="502.9" y2="359.5" stroke="#2a2aa8" stroke-width="1.1" />
<line x1="501.5" y1="351.3" x2="504.3" y2="351.3" stroke="#2a2aa8" stroke-width="1.1" />
<line x1="501.5" y1="359.5" x2="504.3" y2="359.5" stroke="#2a2aa8" stroke-width="1.1" />
<rect x="499.9" y="352.7" width="6" height="6.3" fill="#8383d4" stroke="#2a2aa8" stroke-width="1.1"/>
<line x1="499.9" y1="356.2" x2="505.9" y2="356.2" stroke="#2a2aa8" stroke-width="1.1" />
<line x1="512.7" y1="354.4" x2="512.7" y2="356.6" stroke="#2a2a2a" stroke-width="1.1" />
<line x1="512.7" y1="359.9" x2="512.7" y2="359.9" stroke="#2a2a2a" stroke-width="1.1" />
<line x1="511.3" y1="354.4" x2="514.1" y2="354.4" stroke="#2a2a2a" stroke-width="1.1" />
<line x1="511.3" y1="359.9" x2="514.1" y2="359.9" stroke="#2a2a2a" stroke-width="1.1" />
<rect x="509.7" y="356.6" width="6" height="3.3" fill="#dcdcdc" stroke="#2a2a2a" stroke-width="1.1"/>
<line x1="509.7" y1="358.5" x2="515.7" y2="358.5" stroke="#2a2a2a" stroke-width="1.1" />
<line x1="519.2" y1="359.4" x2="525.8" y2="359.4" stroke="#2ab3bd" stroke-width="1.6" />
<line x1="529" y1="358.2" x2="535.6" y2="358.2" stroke="#2a2aa8" stroke-width="1.6" />
<line x1="480" y1="369" x2="504.9" y2="369" stroke="#444" stroke-width="1" />
<line x1="480" y1="366.6" x2="480" y2="371.4" stroke="#444" stroke-width="1" />
<line x1="504.9" y1="366.6" x2="504.9" y2="371.4" stroke="#444" stroke-width="1" />
<line x1="509.3" y1="369.5" x2="535.2" y2="369.5" stroke="#444" stroke-width="1" />
<line x1="509.3" y1="367.1" x2="509.3" y2="371.9" stroke="#444" stroke-width="1" />
<line x1="535.2" y1="367.1" x2="535.2" y2="371.9" stroke="#444" stroke-width="1" />
<text x="492.45" y="377.6" font-size="6.3" fill="#3a3a3a" stroke="#3a3a3a" stroke-width="0.22" text-anchor="middle" textLength="25.3" lengthAdjust="spacingAndGlyphs" >LPS/IFN-γ</text>
<text x="522.25" y="377.6" font-size="6.3" fill="#3a3a3a" stroke="#3a3a3a" stroke-width="0.22" text-anchor="middle" textLength="24.9" lengthAdjust="spacingAndGlyphs" >IL-4/IL-13</text>
<text transform="translate(411.75,293.17) scale(0.762,1)" font-size="22.73" fill="#000">J</text>
<text x="476.2" y="288.6" font-size="7.5" fill="#333" stroke="#333" stroke-width="0.16" textLength="33.8" lengthAdjust="spacingAndGlyphs">IL-10 24 h</text>
<text transform="translate(427.4,331.8) rotate(-90)" x="0" y="0" font-size="6.54" fill="#333" stroke="#333" stroke-width="0.14" text-anchor="middle" textLength="40.7" lengthAdjust="spacingAndGlyphs">pg / mg tissue</text>
<text transform="translate(11.3,26.1) scale(0.890,1)" font-size="22.82" fill="#000">A</text>
<path d="M33,49.3 L32.8,51.8 L30.5,52.8 L27.8,53.9 L26.6,55.5 L26.2,57.5 L25.2,62 L23.8,66 L22.3,69.5 L21,72 L20.1,73.6 L20.6,75.3 L21.8,75.9 L23,75.4 L23.6,73.8 L24,72 L25.8,68 L27.5,64 L28.6,61.2 L28.6,64 L28.2,68 L28.1,72 L28.3,76 L28.6,80 L29,88 L29.3,96 L29.4,103 L29.3,105.3 L28.9,106.6 L31,106.9 L32.6,106.5 L32.6,104.5 L32.8,98 L33.3,90 L34,82 L34.8,77.7 L35.6,82 L36.3,90 L36.8,98 L37,104.5 L37,106.5 L38.6,106.9 L40.7,106.6 L40.3,105.3 L40.2,103 L40.3,96 L40.6,88 L41,80 L41.3,76 L41.5,72 L41.4,68 L41,64 L41,61.2 L42.1,64 L43.8,68 L45.6,72 L46,73.8 L46.6,75.4 L47.8,75.9 L49,75.3 L49.5,73.6 L48.6,72 L47.3,69.5 L45.8,66 L44.4,62 L43.4,57.5 L43,55.5 L41.8,53.9 L39.1,52.8 L36.8,51.8 L36.6,49.3 C38.7,48.5 38.7,42.3 34.8,42.3 C30.9,42.3 30.9,48.5 33.0,49.3 Z" fill="#ffffff" stroke="#707070" stroke-width="0.6" stroke-linejoin="round"/>
<path d="M34.3,53.9 C32.2,55.2 30.2,58.5 29.9,63.8 C31.8,65.0 33.6,64.8 34.4,64.0 Z M35.3,53.9 C37.4,55.2 39.6,58.5 40.0,63.8 C38.1,65.0 36.2,64.8 35.3,64.0 Z" fill="#dedede" stroke="#cfcfcf" stroke-width="0.3"/>
<circle cx="37.6" cy="61.1" r="1.25" fill="#f4f4f4" stroke="#555" stroke-width="0.6"/>
<ellipse cx="22.1" cy="75.2" rx="1.4" ry="0.75" fill="#333"/>
<ellipse cx="47.5" cy="75.2" rx="1.4" ry="0.75" fill="#333"/>
<line x1="48" y1="60.8" x2="78" y2="69.8" stroke="#555" stroke-width="0.9" />
<path d="M75.8,77.4 L75.8,82.6 C75.8,86.5 84,89.1 94,89.1 C104,89.1 112,86.5 112,82.6 L112,77.4" fill="#f4f4f8" stroke="#777" stroke-width="0.7"/>
<ellipse cx="94" cy="82.8" rx="17.4" ry="4.9" fill="#d8d8ee" stroke="#9a9ab0" stroke-width="0.5"/>
<line x1="76.6" y1="82.4" x2="111.2" y2="82.4" stroke="#8a8aa0" stroke-width="0.5"/>
<ellipse cx="94.1" cy="83.5" rx="7.5" ry="3.6" fill="#e69a9c" stroke="#a85a5a" stroke-width="0.6" stroke-dasharray="0.8 0.9"/>
<ellipse cx="93.9" cy="77.4" rx="18.1" ry="4.2" fill="none" stroke="#777" stroke-width="0.7"/>
<text x="95" y="98.4" font-size="5.6" fill="#3a3a3a" stroke="#3a3a3a" stroke-width="0.2" text-anchor="middle" textLength="46" lengthAdjust="spacing" >human donor PCLS</text>
<path d="M112.8,63.3 L117.6,63.3 Q119.6,63.3 119.6,65.3 L119.6,71.5 Q119.6,73.5 121.6,73.5 L126.3,73.5 M121.6,73.5 Q119.6,73.5 119.6,75.5 L119.6,101.8 Q119.6,103.8 117.6,103.8 L112.8,103.8" fill="none" stroke="#555" stroke-width="0.9"/>
<text x="151.3" y="48.7" font-size="4.7" fill="#4448a4" stroke="#4448a4" stroke-width="0.24" text-anchor="middle" textLength="18.7" lengthAdjust="spacing" >HQL-79</text>
<text x="151.3" y="54" font-size="4.5" fill="#4448a4" stroke="#4448a4" stroke-width="0.32" text-anchor="middle" textLength="12.5" lengthAdjust="spacing" >24 µM</text>
<text x="151.5" y="59.4" font-size="4.7" fill="#44c6cc" stroke="#44c6cc" stroke-width="0.14" text-anchor="middle" textLength="23.7" lengthAdjust="spacing" >Cay16256</text>
<text x="152" y="65" font-size="4.5" fill="#44c6cc" stroke="#44c6cc" stroke-width="0.14" text-anchor="middle" textLength="12" lengthAdjust="spacing" >10 µM</text>
<line x1="151" y1="67" x2="151" y2="71" stroke="#666" stroke-width="0.9" />
<text x="201.6" y="48.7" font-size="4.7" fill="#4448a4" stroke="#4448a4" stroke-width="0.24" text-anchor="middle" textLength="18.7" lengthAdjust="spacing" >HQL-79</text>
<text x="201.6" y="54" font-size="4.5" fill="#4448a4" stroke="#4448a4" stroke-width="0.32" text-anchor="middle" textLength="12.5" lengthAdjust="spacing" >24 µM</text>
<text x="201.8" y="59.4" font-size="4.7" fill="#44c6cc" stroke="#44c6cc" stroke-width="0.14" text-anchor="middle" textLength="23.7" lengthAdjust="spacing" >Cay16256</text>
<text x="202.3" y="65" font-size="4.5" fill="#44c6cc" stroke="#44c6cc" stroke-width="0.14" text-anchor="middle" textLength="12" lengthAdjust="spacing" >10 µM</text>
<line x1="201.3" y1="67" x2="201.3" y2="71" stroke="#666" stroke-width="0.9" />
<line x1="150.5" y1="73.5" x2="280.6" y2="73.5" stroke="#555" stroke-width="1.1" />
<line x1="150.5" y1="73.5" x2="150.5" y2="77.6" stroke="#555" stroke-width="1" />
<line x1="196" y1="73.5" x2="196" y2="77.6" stroke="#555" stroke-width="1" />
<line x1="223" y1="73.5" x2="223" y2="77.6" stroke="#555" stroke-width="1" />
<line x1="280.6" y1="69" x2="280.6" y2="77.6" stroke="#555" stroke-width="1" />
<text x="237.3" y="46.2" font-size="7.6" fill="#3a3a3a" stroke="#3a3a3a" stroke-width="0.27" textLength="57.4" lengthAdjust="spacingAndGlyphs" >PGD<tspan font-size="70%" dy="1.5">2</tspan><tspan dy="-1.5">-MOX ELISA</tspan></text>
<text x="237.3" y="56.6" font-size="7.6" fill="#3a3a3a" stroke="#3a3a3a" stroke-width="0.27" textLength="61.7" lengthAdjust="spacingAndGlyphs" >LEGENDplex ELISA</text>
<text x="237.3" y="66.7" font-size="7.6" fill="#3a3a3a" stroke="#3a3a3a" stroke-width="0.27" textLength="28.3" lengthAdjust="spacingAndGlyphs" >PCR, RIA</text>
<rect x="164.3" y="87.6" width="33.1" height="7.1" fill="#dcdcdc" stroke="#555" stroke-width="0.9"/>
<text x="180.8" y="93.15" font-size="5.6" fill="#333" stroke="#333" stroke-width="0.08" text-anchor="middle" textLength="17.5" lengthAdjust="spacingAndGlyphs" >vehicle</text>
<rect x="164.3" y="97.1" width="33.1" height="7.5" fill="#b0e2b4" stroke="#555" stroke-width="0.9"/>
<text x="180.8" y="102.85" font-size="5.6" fill="#333" stroke="#333" stroke-width="0.08" text-anchor="middle" textLength="23" lengthAdjust="spacingAndGlyphs" >LPS/IFN-γ</text>
<rect x="164.3" y="107.2" width="33.1" height="7" fill="#ffffff" stroke="#555" stroke-width="0.9"/>
<text x="180.8" y="112.7" font-size="5.6" fill="#333" stroke="#333" stroke-width="0.08" text-anchor="middle" textLength="24" lengthAdjust="spacingAndGlyphs" >IL-4/IL-13</text>
<line x1="199" y1="92.1" x2="224.4" y2="92.1" stroke="#cfcfcf" stroke-width="0.9" />
<path d="M222.4,90.1 L224.9,92.1 L222.4,94.1" fill="none" stroke="#cfcfcf" stroke-width="1.1"/>
<line x1="199" y1="94.3" x2="280.6" y2="94.3" stroke="#cfcfcf" stroke-width="1.2" />
<path d="M278.4,92.1 L281.2,94.3 L278.4,96.5" fill="none" stroke="#cfcfcf" stroke-width="1.4"/>
<line x1="199" y1="99.8" x2="224.4" y2="99.8" stroke="#3cb060" stroke-width="0.9" />
<path d="M222.4,97.8 L224.9,99.8 L222.4,101.8" fill="none" stroke="#3cb060" stroke-width="1.1"/>
<line x1="199" y1="102.8" x2="280.6" y2="102.8" stroke="#3cb060" stroke-width="1.5" />
<path d="M278.4,100.6 L281.2,102.8 L278.4,105" fill="none" stroke="#3cb060" stroke-width="1.4"/>
<line x1="199" y1="109.2" x2="224.4" y2="109.2" stroke="#333" stroke-width="0.9" />
<path d="M222.4,107.2 L224.9,109.2 L222.4,111.2" fill="none" stroke="#333" stroke-width="1.1"/>
<line x1="199" y1="111.8" x2="280.6" y2="111.8" stroke="#333" stroke-width="1.5" />
<path d="M278.4,109.6 L281.2,111.8 L278.4,114" fill="none" stroke="#333" stroke-width="1.4"/>
<text transform="translate(305.09,25.9) scale(0.952,1)" font-size="22.39" fill="#000">B</text>
<line x1="349.8" y1="35.9" x2="349.8" y2="100.8" stroke="#3a3a3a" stroke-width="1" />
<line x1="349.3" y1="100.3" x2="415.5" y2="100.3" stroke="#3a3a3a" stroke-width="1" />
<line x1="347.2" y1="36.3" x2="349.8" y2="36.3" stroke="#3a3a3a" stroke-width="0.9" />
<text x="346.5" y="38.3" font-size="5.8" fill="#333333" stroke="#333333" stroke-width="0.2" text-anchor="end" >10</text>
<line x1="347.2" y1="68.3" x2="349.8" y2="68.3" stroke="#3a3a3a" stroke-width="0.9" />
<text x="346.5" y="70.3" font-size="5.8" fill="#333333" stroke="#333333" stroke-width="0.2" text-anchor="end" >1</text>
<line x1="347.2" y1="100.3" x2="349.8" y2="100.3" stroke="#3a3a3a" stroke-width="0.9" />
<text x="346.5" y="102.3" font-size="5.8" fill="#333333" stroke="#333333" stroke-width="0.2" text-anchor="end" >0.1</text>
<line x1="348.1" y1="58.67" x2="349.8" y2="58.67" stroke="#3a3a3a" stroke-width="0.75" />
<line x1="348.1" y1="53.03" x2="349.8" y2="53.03" stroke="#3a3a3a" stroke-width="0.75" />
<line x1="348.1" y1="49.03" x2="349.8" y2="49.03" stroke="#3a3a3a" stroke-width="0.75" />
<line x1="348.1" y1="45.93" x2="349.8" y2="45.93" stroke="#3a3a3a" stroke-width="0.75" />
<line x1="348.1" y1="43.4" x2="349.8" y2="43.4" stroke="#3a3a3a" stroke-width="0.75" />
<line x1="348.1" y1="41.26" x2="349.8" y2="41.26" stroke="#3a3a3a" stroke-width="0.75" />
<line x1="348.1" y1="39.4" x2="349.8" y2="39.4" stroke="#3a3a3a" stroke-width="0.75" />
<line x1="348.1" y1="37.76" x2="349.8" y2="37.76" stroke="#3a3a3a" stroke-width="0.75" />
<line x1="348.1" y1="90.67" x2="349.8" y2="90.67" stroke="#3a3a3a" stroke-width="0.75" />
<line x1="348.1" y1="85.03" x2="349.8" y2="85.03" stroke="#3a3a3a" stroke-width="0.75" />
<line x1="348.1" y1="81.03" x2="349.8" y2="81.03" stroke="#3a3a3a" stroke-width="0.75" />
<line x1="348.1" y1="77.93" x2="349.8" y2="77.93" stroke="#3a3a3a" stroke-width="0.75" />
<line x1="348.1" y1="75.4" x2="349.8" y2="75.4" stroke="#3a3a3a" stroke-width="0.75" />
<line x1="348.1" y1="73.26" x2="349.8" y2="73.26" stroke="#3a3a3a" stroke-width="0.75" />
<line x1="348.1" y1="71.4" x2="349.8" y2="71.4" stroke="#3a3a3a" stroke-width="0.75" />
<line x1="348.1" y1="69.76" x2="349.8" y2="69.76" stroke="#3a3a3a" stroke-width="0.75" />
<line x1="365.3" y1="100.3" x2="365.3" y2="102.8" stroke="#3a3a3a" stroke-width="0.9" />
<text x="365.3" y="109" font-size="6.2" fill="#333" stroke="#333" stroke-width="0.22" text-anchor="middle" textLength="8.5" lengthAdjust="spacingAndGlyphs" >6 h</text>
<line x1="398.9" y1="100.3" x2="398.9" y2="102.8" stroke="#3a3a3a" stroke-width="0.9" />
<text x="398.9" y="109" font-size="6.2" fill="#333" stroke="#333" stroke-width="0.22" text-anchor="middle" textLength="11.9" lengthAdjust="spacingAndGlyphs" >24 h</text>
<text x="371.7" y="24.1" font-size="8.2" fill="#333" stroke="#333" stroke-width="0.18" textLength="20.8" lengthAdjust="spacingAndGlyphs">PGD<tspan font-size="70%" dy="1.8">2</tspan></text>
<line x1="356.6" y1="59" x2="365.7" y2="43.9" stroke="#3a3a3a" stroke-width="0.75" />
<line x1="356.6" y1="65.2" x2="365.7" y2="58" stroke="#3a3a3a" stroke-width="0.75" />
<line x1="356.6" y1="70.6" x2="365.7" y2="59" stroke="#3a3a3a" stroke-width="0.75" />
<line x1="356.6" y1="79.3" x2="365.7" y2="67.3" stroke="#3a3a3a" stroke-width="0.75" />
<line x1="356.6" y1="80.6" x2="365.7" y2="72.1" stroke="#3a3a3a" stroke-width="0.75" />
<line x1="356.6" y1="81.8" x2="365.7" y2="74.8" stroke="#3a3a3a" stroke-width="0.75" />
<line x1="356.6" y1="79.8" x2="365.7" y2="88.9" stroke="#3a3a3a" stroke-width="0.75" />
<line x1="356.6" y1="91.8" x2="365.7" y2="77.9" stroke="#3a3a3a" stroke-width="0.75" />
<circle cx="356.6" cy="59" r="1.65" fill="#a8a8a8" stroke="#3c3c3c" stroke-width="0.95"/>
<circle cx="356.6" cy="65.2" r="1.65" fill="#a8a8a8" stroke="#3c3c3c" stroke-width="0.95"/>
<circle cx="356.6" cy="70.6" r="1.65" fill="#a8a8a8" stroke="#3c3c3c" stroke-width="0.95"/>
<circle cx="356.6" cy="79.3" r="1.65" fill="#a8a8a8" stroke="#3c3c3c" stroke-width="0.95"/>
<circle cx="356.6" cy="80.6" r="1.65" fill="#a8a8a8" stroke="#3c3c3c" stroke-width="0.95"/>
<circle cx="356.6" cy="81.8" r="1.65" fill="#a8a8a8" stroke="#3c3c3c" stroke-width="0.95"/>
<circle cx="356.6" cy="79.8" r="1.65" fill="#a8a8a8" stroke="#3c3c3c" stroke-width="0.95"/>
<circle cx="356.6" cy="91.8" r="1.65" fill="#a8a8a8" stroke="#3c3c3c" stroke-width="0.95"/>
<path d="M365.7,41.9 L367.7,43.9 L365.7,45.9 L363.7,43.9 Z" fill="#c8ecc8" stroke="#4cba4c" stroke-width="1.0"/>
<path d="M365.7,56 L367.7,58 L365.7,60 L363.7,58 Z" fill="#c8ecc8" stroke="#4cba4c" stroke-width="1.0"/>
<path d="M365.7,57 L367.7,59 L365.7,61 L363.7,59 Z" fill="#c8ecc8" stroke="#4cba4c" stroke-width="1.0"/>
<path d="M365.7,65.3 L367.7,67.3 L365.7,69.3 L363.7,67.3 Z" fill="#c8ecc8" stroke="#4cba4c" stroke-width="1.0"/>
<path d="M365.7,70.1 L367.7,72.1 L365.7,74.1 L363.7,72.1 Z" fill="#c8ecc8" stroke="#4cba4c" stroke-width="1.0"/>
<path d="M365.7,72.8 L367.7,74.8 L365.7,76.8 L363.7,74.8 Z" fill="#c8ecc8" stroke="#4cba4c" stroke-width="1.0"/>
<path d="M365.7,86.9 L367.7,88.9 L365.7,90.9 L363.7,88.9 Z" fill="#c8ecc8" stroke="#4cba4c" stroke-width="1.0"/>
<path d="M365.7,75.9 L367.7,77.9 L365.7,79.9 L363.7,77.9 Z" fill="#c8ecc8" stroke="#4cba4c" stroke-width="1.0"/>
<line x1="389.7" y1="46" x2="399.1" y2="42.5" stroke="#3a3a3a" stroke-width="0.75" />
<line x1="389.7" y1="60" x2="399.1" y2="37.3" stroke="#3a3a3a" stroke-width="0.75" />
<line x1="389.7" y1="61.8" x2="399.1" y2="44.3" stroke="#3a3a3a" stroke-width="0.75" />
<line x1="389.7" y1="63.6" x2="399.1" y2="48.7" stroke="#3a3a3a" stroke-width="0.75" />
<line x1="389.7" y1="68.8" x2="399.1" y2="80.2" stroke="#3a3a3a" stroke-width="0.75" />
<line x1="389.7" y1="78" x2="399.1" y2="64.5" stroke="#3a3a3a" stroke-width="0.75" />
<line x1="389.7" y1="79.4" x2="399.1" y2="68.8" stroke="#3a3a3a" stroke-width="0.75" />
<line x1="389.7" y1="63.6" x2="399.1" y2="78.5" stroke="#3a3a3a" stroke-width="0.75" />
<line x1="389.7" y1="94.3" x2="399.1" y2="85.5" stroke="#3a3a3a" stroke-width="0.75" />
<circle cx="389.7" cy="46" r="1.65" fill="#a8a8a8" stroke="#3c3c3c" stroke-width="0.95"/>
<circle cx="389.7" cy="60" r="1.65" fill="#a8a8a8" stroke="#3c3c3c" stroke-width="0.95"/>
<circle cx="389.7" cy="61.8" r="1.65" fill="#a8a8a8" stroke="#3c3c3c" stroke-width="0.95"/>
<circle cx="389.7" cy="63.6" r="1.65" fill="#a8a8a8" stroke="#3c3c3c" stroke-width="0.95"/>
<circle cx="389.7" cy="68.8" r="1.65" fill="#a8a8a8" stroke="#3c3c3c" stroke-width="0.95"/>
<circle cx="389.7" cy="78" r="1.65" fill="#a8a8a8" stroke="#3c3c3c" stroke-width="0.95"/>
<circle cx="389.7" cy="79.4" r="1.65" fill="#a8a8a8" stroke="#3c3c3c" stroke-width="0.95"/>
<circle cx="389.7" cy="63.6" r="1.65" fill="#a8a8a8" stroke="#3c3c3c" stroke-width="0.95"/>
<circle cx="389.7" cy="94.3" r="1.65" fill="#a8a8a8" stroke="#3c3c3c" stroke-width="0.95"/>
<path d="M399.1,40.5 L401.1,42.5 L399.1,44.5 L397.1,42.5 Z" fill="#c8ecc8" stroke="#4cba4c" stroke-width="1.0"/>
<path d="M399.1,35.3 L401.1,37.3 L399.1,39.3 L397.1,37.3 Z" fill="#c8ecc8" stroke="#4cba4c" stroke-width="1.0"/>
<path d="M399.1,42.3 L401.1,44.3 L399.1,46.3 L397.1,44.3 Z" fill="#c8ecc8" stroke="#4cba4c" stroke-width="1.0"/>
<path d="M399.1,46.7 L401.1,48.7 L399.1,50.7 L397.1,48.7 Z" fill="#c8ecc8" stroke="#4cba4c" stroke-width="1.0"/>
<path d="M399.1,78.2 L401.1,80.2 L399.1,82.2 L397.1,80.2 Z" fill="#c8ecc8" stroke="#4cba4c" stroke-width="1.0"/>
<path d="M399.1,62.5 L401.1,64.5 L399.1,66.5 L397.1,64.5 Z" fill="#c8ecc8" stroke="#4cba4c" stroke-width="1.0"/>
<path d="M399.1,66.8 L401.1,68.8 L399.1,70.8 L397.1,68.8 Z" fill="#c8ecc8" stroke="#4cba4c" stroke-width="1.0"/>
<path d="M399.1,76.5 L401.1,78.5 L399.1,80.5 L397.1,78.5 Z" fill="#c8ecc8" stroke="#4cba4c" stroke-width="1.0"/>
<path d="M399.1,83.5 L401.1,85.5 L399.1,87.5 L397.1,85.5 Z" fill="#c8ecc8" stroke="#4cba4c" stroke-width="1.0"/>
<line x1="448.8" y1="35.9" x2="448.8" y2="100.8" stroke="#3a3a3a" stroke-width="1" />
<line x1="448.3" y1="100.3" x2="515" y2="100.3" stroke="#3a3a3a" stroke-width="1" />
<line x1="446.2" y1="36.3" x2="448.8" y2="36.3" stroke="#3a3a3a" stroke-width="0.9" />
<text x="445.5" y="38.3" font-size="5.8" fill="#333333" stroke="#333333" stroke-width="0.2" text-anchor="end" >10</text>
<line x1="446.2" y1="68.3" x2="448.8" y2="68.3" stroke="#3a3a3a" stroke-width="0.9" />
<text x="445.5" y="70.3" font-size="5.8" fill="#333333" stroke="#333333" stroke-width="0.2" text-anchor="end" >1</text>
<line x1="446.2" y1="100.3" x2="448.8" y2="100.3" stroke="#3a3a3a" stroke-width="0.9" />
<text x="445.5" y="102.3" font-size="5.8" fill="#333333" stroke="#333333" stroke-width="0.2" text-anchor="end" >0.1</text>
<line x1="447.1" y1="58.67" x2="448.8" y2="58.67" stroke="#3a3a3a" stroke-width="0.75" />
<line x1="447.1" y1="53.03" x2="448.8" y2="53.03" stroke="#3a3a3a" stroke-width="0.75" />
<line x1="447.1" y1="49.03" x2="448.8" y2="49.03" stroke="#3a3a3a" stroke-width="0.75" />
<line x1="447.1" y1="45.93" x2="448.8" y2="45.93" stroke="#3a3a3a" stroke-width="0.75" />
<line x1="447.1" y1="43.4" x2="448.8" y2="43.4" stroke="#3a3a3a" stroke-width="0.75" />
<line x1="447.1" y1="41.26" x2="448.8" y2="41.26" stroke="#3a3a3a" stroke-width="0.75" />
<line x1="447.1" y1="39.4" x2="448.8" y2="39.4" stroke="#3a3a3a" stroke-width="0.75" />
<line x1="447.1" y1="37.76" x2="448.8" y2="37.76" stroke="#3a3a3a" stroke-width="0.75" />
<line x1="447.1" y1="90.67" x2="448.8" y2="90.67" stroke="#3a3a3a" stroke-width="0.75" />
<line x1="447.1" y1="85.03" x2="448.8" y2="85.03" stroke="#3a3a3a" stroke-width="0.75" />
<line x1="447.1" y1="81.03" x2="448.8" y2="81.03" stroke="#3a3a3a" stroke-width="0.75" />
<line x1="447.1" y1="77.93" x2="448.8" y2="77.93" stroke="#3a3a3a" stroke-width="0.75" />
<line x1="447.1" y1="75.4" x2="448.8" y2="75.4" stroke="#3a3a3a" stroke-width="0.75" />
<line x1="447.1" y1="73.26" x2="448.8" y2="73.26" stroke="#3a3a3a" stroke-width="0.75" />
<line x1="447.1" y1="71.4" x2="448.8" y2="71.4" stroke="#3a3a3a" stroke-width="0.75" />
<line x1="447.1" y1="69.76" x2="448.8" y2="69.76" stroke="#3a3a3a" stroke-width="0.75" />
<line x1="464.3" y1="100.3" x2="464.3" y2="102.8" stroke="#3a3a3a" stroke-width="0.9" />
<text x="464.3" y="109" font-size="6.2" fill="#333" stroke="#333" stroke-width="0.22" text-anchor="middle" textLength="8.5" lengthAdjust="spacingAndGlyphs" >6 h</text>
<line x1="498.4" y1="100.3" x2="498.4" y2="102.8" stroke="#3a3a3a" stroke-width="0.9" />
<text x="498.4" y="109" font-size="6.2" fill="#333" stroke="#333" stroke-width="0.22" text-anchor="middle" textLength="11.9" lengthAdjust="spacingAndGlyphs" >24 h</text>
<text x="471.2" y="24.1" font-size="8.2" fill="#333" stroke="#333" stroke-width="0.18" textLength="20.8" lengthAdjust="spacingAndGlyphs">PGD<tspan font-size="70%" dy="1.8">2</tspan></text>
<line x1="454.8" y1="58.4" x2="473.8" y2="57.6" stroke="#3a3a3a" stroke-width="0.75" />
<line x1="454.8" y1="64.9" x2="473.8" y2="74.8" stroke="#3a3a3a" stroke-width="0.75" />
<line x1="454.8" y1="69.6" x2="473.8" y2="76.6" stroke="#3a3a3a" stroke-width="0.75" />
<line x1="454.8" y1="79.7" x2="473.8" y2="72.3" stroke="#3a3a3a" stroke-width="0.75" />
<line x1="454.8" y1="80.5" x2="473.8" y2="78.5" stroke="#3a3a3a" stroke-width="0.75" />
<line x1="454.8" y1="79.2" x2="473.8" y2="88.4" stroke="#3a3a3a" stroke-width="0.75" />
<line x1="454.8" y1="86.1" x2="473.8" y2="90.8" stroke="#3a3a3a" stroke-width="0.75" />
<line x1="454.8" y1="91.8" x2="473.8" y2="86.1" stroke="#3a3a3a" stroke-width="0.75" />
<circle cx="454.8" cy="58.4" r="1.65" fill="#a8a8a8" stroke="#3c3c3c" stroke-width="0.95"/>
<circle cx="454.8" cy="64.9" r="1.65" fill="#a8a8a8" stroke="#3c3c3c" stroke-width="0.95"/>
<circle cx="454.8" cy="69.6" r="1.65" fill="#a8a8a8" stroke="#3c3c3c" stroke-width="0.95"/>
<circle cx="454.8" cy="79.7" r="1.65" fill="#a8a8a8" stroke="#3c3c3c" stroke-width="0.95"/>
<circle cx="454.8" cy="80.5" r="1.65" fill="#a8a8a8" stroke="#3c3c3c" stroke-width="0.95"/>
<circle cx="454.8" cy="79.2" r="1.65" fill="#a8a8a8" stroke="#3c3c3c" stroke-width="0.95"/>
<circle cx="454.8" cy="86.1" r="1.65" fill="#a8a8a8" stroke="#3c3c3c" stroke-width="0.95"/>
<circle cx="454.8" cy="91.8" r="1.65" fill="#a8a8a8" stroke="#3c3c3c" stroke-width="0.95"/>
<path d="M473.8,55.6 L475.7,59 L471.9,59 Z" fill="#e0e0e0" stroke="#444" stroke-width="0.85"/>
<path d="M473.8,72.8 L475.7,76.2 L471.9,76.2 Z" fill="#e0e0e0" stroke="#444" stroke-width="0.85"/>
<path d="M473.8,74.6 L475.7,78 L471.9,78 Z" fill="#e0e0e0" stroke="#444" stroke-width="0.85"/>
<path d="M473.8,70.3 L475.7,73.7 L471.9,73.7 Z" fill="#e0e0e0" stroke="#444" stroke-width="0.85"/>
<path d="M473.8,76.5 L475.7,79.9 L471.9,79.9 Z" fill="#e0e0e0" stroke="#444" stroke-width="0.85"/>
<path d="M473.8,86.4 L475.7,89.8 L471.9,89.8 Z" fill="#e0e0e0" stroke="#444" stroke-width="0.85"/>
<path d="M473.8,88.8 L475.7,92.2 L471.9,92.2 Z" fill="#e0e0e0" stroke="#444" stroke-width="0.85"/>
<path d="M473.8,84.1 L475.7,87.5 L471.9,87.5 Z" fill="#e0e0e0" stroke="#444" stroke-width="0.85"/>
<line x1="489" y1="46.2" x2="508" y2="51.6" stroke="#3a3a3a" stroke-width="0.75" />
<line x1="489" y1="59.3" x2="508" y2="55.5" stroke="#3a3a3a" stroke-width="0.75" />
<line x1="489" y1="60.9" x2="508" y2="73.2" stroke="#3a3a3a" stroke-width="0.75" />
<line x1="489" y1="62.5" x2="508" y2="79.4" stroke="#3a3a3a" stroke-width="0.75" />
<line x1="489" y1="68.3" x2="508" y2="61.6" stroke="#3a3a3a" stroke-width="0.75" />
<line x1="489" y1="76.8" x2="508" y2="75.2" stroke="#3a3a3a" stroke-width="0.75" />
<line x1="489" y1="78.3" x2="508" y2="77.1" stroke="#3a3a3a" stroke-width="0.75" />
<line x1="489" y1="94.4" x2="508" y2="90.7" stroke="#3a3a3a" stroke-width="0.75" />
<line x1="489" y1="59.8" x2="508" y2="71.7" stroke="#3a3a3a" stroke-width="0.75" />
<line x1="489" y1="61.5" x2="508" y2="81.4" stroke="#3a3a3a" stroke-width="0.75" />
<circle cx="489" cy="46.2" r="1.65" fill="#a8a8a8" stroke="#3c3c3c" stroke-width="0.95"/>
<circle cx="489" cy="59.3" r="1.65" fill="#a8a8a8" stroke="#3c3c3c" stroke-width="0.95"/>
<circle cx="489" cy="60.9" r="1.65" fill="#a8a8a8" stroke="#3c3c3c" stroke-width="0.95"/>
<circle cx="489" cy="62.5" r="1.65" fill="#a8a8a8" stroke="#3c3c3c" stroke-width="0.95"/>
<circle cx="489" cy="68.3" r="1.65" fill="#a8a8a8" stroke="#3c3c3c" stroke-width="0.95"/>
<circle cx="489" cy="76.8" r="1.65" fill="#a8a8a8" stroke="#3c3c3c" stroke-width="0.95"/>
<circle cx="489" cy="78.3" r="1.65" fill="#a8a8a8" stroke="#3c3c3c" stroke-width="0.95"/>
<circle cx="489" cy="94.4" r="1.65" fill="#a8a8a8" stroke="#3c3c3c" stroke-width="0.95"/>
<circle cx="489" cy="59.8" r="1.65" fill="#a8a8a8" stroke="#3c3c3c" stroke-width="0.95"/>
<circle cx="489" cy="61.5" r="1.65" fill="#a8a8a8" stroke="#3c3c3c" stroke-width="0.95"/>
<path d="M508,49.6 L509.9,53 L506.1,53 Z" fill="#e0e0e0" stroke="#444" stroke-width="0.85"/>
<path d="M508,53.5 L509.9,56.9 L506.1,56.9 Z" fill="#e0e0e0" stroke="#444" stroke-width="0.85"/>
<path d="M508,71.2 L509.9,74.6 L506.1,74.6 Z" fill="#e0e0e0" stroke="#444" stroke-width="0.85"/>
<path d="M508,77.4 L509.9,80.8 L506.1,80.8 Z" fill="#e0e0e0" stroke="#444" stroke-width="0.85"/>
<path d="M508,59.6 L509.9,63 L506.1,63 Z" fill="#e0e0e0" stroke="#444" stroke-width="0.85"/>
<path d="M508,73.2 L509.9,76.6 L506.1,76.6 Z" fill="#e0e0e0" stroke="#444" stroke-width="0.85"/>
<path d="M508,75.1 L509.9,78.5 L506.1,78.5 Z" fill="#e0e0e0" stroke="#444" stroke-width="0.85"/>
<path d="M508,88.7 L509.9,92.1 L506.1,92.1 Z" fill="#e0e0e0" stroke="#444" stroke-width="0.85"/>
<path d="M508,69.7 L509.9,73.1 L506.1,73.1 Z" fill="#e0e0e0" stroke="#444" stroke-width="0.85"/>
<path d="M508,79.4 L509.9,82.8 L506.1,82.8 Z" fill="#e0e0e0" stroke="#444" stroke-width="0.85"/>
<text transform="translate(333,67.6) rotate(-90)" font-size="7.0" fill="#333" stroke="#333" stroke-width="0.16" text-anchor="middle" textLength="81.8" lengthAdjust="spacingAndGlyphs">pg MOX-PGD<tspan font-size="70%" dy="1.2">2</tspan><tspan dy="-1.2"> / mg tissue</tspan></text>
<line x1="354.5" y1="119.5" x2="360.8" y2="119.5" stroke="#444" stroke-width="0.8" />
<circle cx="357.6" cy="119.7" r="1.5" fill="#a8a8a8" stroke="#3c3c3c" stroke-width="0.9"/>
<text x="364.9" y="120.9" font-size="5.2" fill="#333333" stroke="#333333" stroke-width="0.18" textLength="28.2" lengthAdjust="spacingAndGlyphs" >unstimulated</text>
<line x1="354.5" y1="128.5" x2="360.8" y2="128.5" stroke="#5cc05c" stroke-width="0.8" />
<path d="M357.6,126.5 L359.6,128.5 L357.6,130.5 L355.6,128.5 Z" fill="#c8ecc8" stroke="#4cba4c" stroke-width="1.0"/>
<text x="364.9" y="129.7" font-size="5.5" fill="#333333" stroke="#333333" stroke-width="0.19" textLength="24.5" lengthAdjust="spacingAndGlyphs" >LPS/IFN-γ</text>
<polyline points="396.1,117.4 400.7,117.4 400.7,130.1 396.1,130.1" fill="none" stroke="#444" stroke-width="0.9"/>
<text x="403.9" y="127.6" font-size="8.4" fill="#1a1a1a" stroke="#1a1a1a" stroke-width="0.4" text-anchor="middle">*</text>
<line x1="452" y1="120.4" x2="458.2" y2="120.4" stroke="#444" stroke-width="0.8" />
<circle cx="455.1" cy="120.4" r="1.5" fill="#a8a8a8" stroke="#3c3c3c" stroke-width="0.9"/>
<text x="462.7" y="121.9" font-size="5.2" fill="#333333" stroke="#333333" stroke-width="0.18" textLength="29" lengthAdjust="spacingAndGlyphs" >unstimulated</text>
<line x1="452" y1="128.8" x2="458.2" y2="128.8" stroke="#555" stroke-width="0.8" />
<path d="M455.1,126.8 L457,130.2 L453.2,130.2 Z" fill="#e0e0e0" stroke="#444" stroke-width="0.85"/>
<text x="462.7" y="130.6" font-size="5.5" fill="#333333" stroke="#333333" stroke-width="0.19" textLength="23.6" lengthAdjust="spacingAndGlyphs" >IL-4/IL-13</text>
<polyline points="493.9,118.7 497.7,118.7 497.7,130.6 493.9,130.6" fill="none" stroke="#444" stroke-width="0.9"/>
<text x="499" y="126.3" font-size="5.6" fill="#333333" stroke="#333333" stroke-width="0.2" textLength="8.3" lengthAdjust="spacingAndGlyphs" >n.s.</text>
<rect x="14.2" y="139.4" width="5.4" height="3.9" fill="#d6d6d6" stroke="#2a2a2a" stroke-width="1.1"/>
<text x="23" y="143.6" font-size="6.8" fill="#333" stroke="#333" stroke-width="0.24" textLength="23" lengthAdjust="spacingAndGlyphs" >medium</text>
<rect x="53.2" y="139.4" width="5.4" height="3.9" fill="#c4f2ea" stroke="#2ab3bd" stroke-width="1.1"/>
<text x="62.2" y="143.6" font-size="6.8" fill="#333" stroke="#333" stroke-width="0.24" textLength="29.6" lengthAdjust="spacingAndGlyphs" >Cay16256</text>
<rect x="99.6" y="139.4" width="5.4" height="3.9" fill="#7f7fd0" stroke="#2a2aa8" stroke-width="1.1"/>
<text x="108.7" y="143.6" font-size="6.8" fill="#333" stroke="#333" stroke-width="0.24" textLength="22.2" lengthAdjust="spacingAndGlyphs" >HQL-79</text>
</svg>
</body></html>
